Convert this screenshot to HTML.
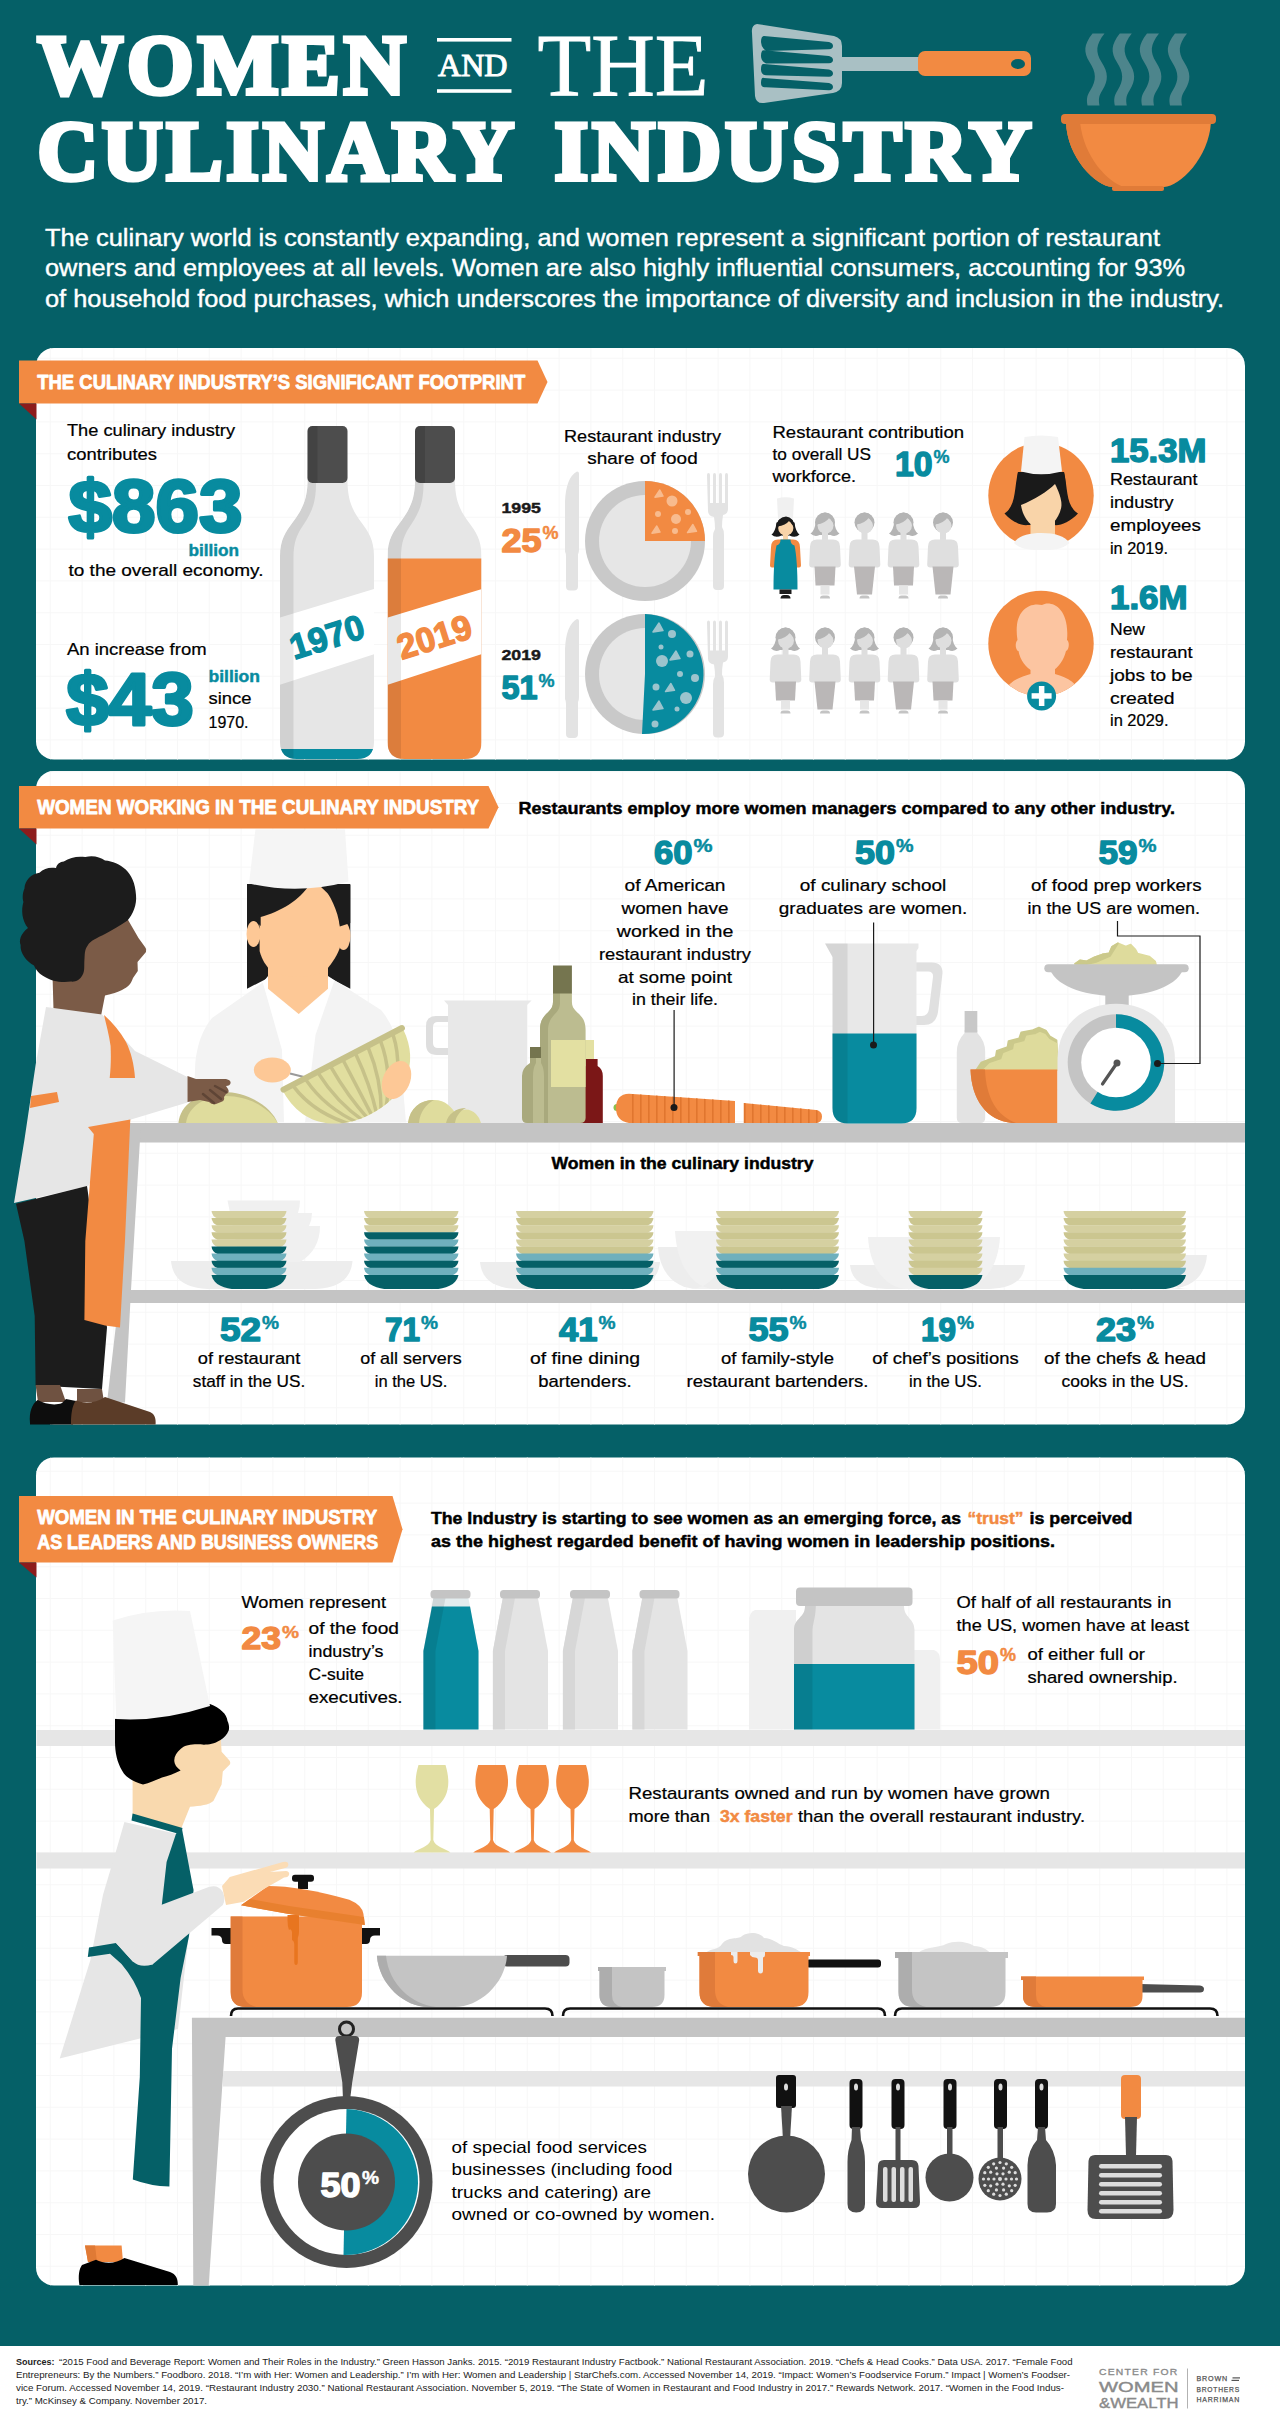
<!DOCTYPE html>
<html><head><meta charset="utf-8"><title>Women and the Culinary Industry</title>
<style>
html,body{margin:0;padding:0;background:#056067;}
body{width:1280px;height:2429px;overflow:hidden;font-family:"Liberation Sans",sans-serif;}
svg{display:block}
svg text{font-family:"Liberation Sans",sans-serif;}
svg text.fSerif{font-family:"Liberation Serif",serif;}
</style></head><body>
<svg width="1280" height="2429" viewBox="0 0 1280 2429">
<defs>
<pattern id="grid" width="31.8" height="31.8" patternUnits="userSpaceOnUse" x="18" y="8">
<path d="M0,0.5 H31.8 M0.5,0 V31.8" stroke="#f7f7f7" stroke-width="1" fill="none"/></pattern>
</defs>
<rect width="1280" height="2429" fill="#056067"/>
<g id="header">
<text x="37.5" y="93.5" font-size="85" textLength="372" lengthAdjust="spacingAndGlyphs" font-weight="bold" class="fSerif" fill="#fff" stroke="#fff" stroke-width="5" stroke-linejoin="miter" letter-spacing="4">WOMEN</text>
<text x="37.5" y="179.5" font-size="85" textLength="480.5" lengthAdjust="spacingAndGlyphs" font-weight="bold" class="fSerif" fill="#fff" stroke="#fff" stroke-width="5" stroke-linejoin="miter" letter-spacing="4">CULINARY</text>
<text x="554.5" y="179.5" font-size="85" textLength="481" lengthAdjust="spacingAndGlyphs" font-weight="bold" class="fSerif" fill="#fff" stroke="#fff" stroke-width="5" stroke-linejoin="miter" letter-spacing="4">INDUSTRY</text>
<text x="537.5" y="95" font-size="88.5" textLength="171" lengthAdjust="spacingAndGlyphs" class="fSerif" fill="#fff" stroke="#fff" stroke-width="0.9">THE</text>
<rect x="437" y="38" width="74.5" height="3.6" fill="#fff" />
<rect x="437" y="89.2" width="74.5" height="3.6" fill="#fff" />
<text x="438" y="76.3" font-size="30.5" textLength="69.5" lengthAdjust="spacingAndGlyphs" class="fSerif" fill="#fff" stroke="#fff" stroke-width="1">AND</text>
<text x="45" y="245.5" font-size="23" textLength="1115" lengthAdjust="spacingAndGlyphs" fill="#fff" stroke="#fff" stroke-width="0.4">The culinary world is constantly expanding, and women represent a significant portion of restaurant</text>
<text x="45" y="276" font-size="23" textLength="1140" lengthAdjust="spacingAndGlyphs" fill="#fff" stroke="#fff" stroke-width="0.4">owners and employees at all levels. Women are also highly influential consumers, accounting for 93%</text>
<text x="45" y="306.5" font-size="23" textLength="1179" lengthAdjust="spacingAndGlyphs" fill="#fff" stroke="#fff" stroke-width="0.4">of household food purchases, which underscores the importance of diversity and inclusion in the industry.</text>
<g><rect x="838" y="57" width="84" height="14" rx="3" fill="#a9c0c4" />
<path d="M757,24 Q751,25 752,33 L755,96 Q756,104 764,103 L833,93 Q842,91 842,83 L842,46 Q842,38 834,36 Z" fill="#a9c0c4" />
<path d="M764,36.0 L829,42 Q833,43 833,46 Q833,49 829,49.3 L766,51.0 Q761,47 761,42 Q761,36 764,36.0Z" fill="#056067" />
<path d="M764,50.3 L829,56 Q833,57 833,60 Q833,63 829,63.3 L766,63.4 Q761,61 761,56 Q761,50 764,50.3Z" fill="#056067" />
<path d="M764,64.1 L829,69.5 Q833,70.5 833,73.5 Q833,76.5 829,76.8 L766,75.3 Q761,74.5 761,69.5 Q761,63.5 764,64.1Z" fill="#056067" />
<path d="M764,77.9 L829,83 Q833,84 833,87 Q833,90 829,90.3 L766,87.2 Q761,88 761,83 Q761,77 764,77.9Z" fill="#056067" />
<rect x="918" y="51" width="113" height="25" rx="7" fill="#f28a42" />
<ellipse cx="1018" cy="64" rx="7" ry="5" fill="#056067"/></g>
<path d="M1092.5,33.500 C1083.5,45 1083.5,52 1089.5,62 C1096.5,73 1096.5,80 1090.5,90 C1086.5,96 1086.5,100 1087.5,105.500 H1099.5 C1098.5,100 1098.5,96 1102.5,90 C1108.5,80 1108.5,73 1101.5,62 C1095.5,52 1095.5,45 1104.5,33.500Z" fill="#4d858c"/>
<path d="M1119.8,33.500 C1110.8,45 1110.8,52 1116.8,62 C1123.8,73 1123.8,80 1117.8,90 C1113.8,96 1113.8,100 1114.8,105.500 H1126.8 C1125.8,100 1125.8,96 1129.8,90 C1135.8,80 1135.8,73 1128.8,62 C1122.8,52 1122.8,45 1131.8,33.500Z" fill="#4d858c"/>
<path d="M1147,33.500 C1138,45 1138,52 1144,62 C1151,73 1151,80 1145,90 C1141,96 1141,100 1142,105.500 H1154 C1153,100 1153,96 1157,90 C1163,80 1163,73 1156,62 C1150,52 1150,45 1159,33.500Z" fill="#4d858c"/>
<path d="M1175,33.500 C1166,45 1166,52 1172,62 C1179,73 1179,80 1173,90 C1169,96 1169,100 1170,105.500 H1182 C1181,100 1181,96 1185,90 C1191,80 1191,73 1184,62 C1178,52 1178,45 1187,33.500Z" fill="#4d858c"/>
<path d="M1066,122 L1211,122 C1209,158 1180,186 1164,187 L1112,187 C1096,186 1067,158 1066,122Z" fill="#f28a42" />
<path d="M1066,122 L1080,122 C1084,158 1108,182 1124,187 L1112,187 C1096,186 1067,158 1066,122Z" fill="#e07b38" />
<rect x="1061" y="114" width="155" height="10" rx="4" fill="#e07b38" />
<rect x="1112" y="186" width="52" height="5" rx="2" fill="#e07b38" />
</g>
<g id="sec1">
<rect x="36" y="348" width="1209" height="411.5" rx="18" fill="#fff" />
<rect x="36" y="348" width="1209" height="411.5" rx="18" fill="url(#grid)" />
<path d="M19,360.5 H537.5 L547.5,382.0 L537.5,403.5 H19Z" fill="#f28a42" />
<path d="M19,403.5 H36.5 V419.5Z" fill="#8c1c1c" />
<text x="37.2" y="389.0" font-size="19.5" textLength="488" lengthAdjust="spacingAndGlyphs" font-weight="bold" fill="#fff"  stroke="#fff" stroke-width="0.8" stroke-linejoin="round">THE CULINARY INDUSTRY’S SIGNIFICANT FOOTPRINT</text>
<text x="67" y="436" font-size="16.6" textLength="168" lengthAdjust="spacingAndGlyphs"  stroke="#000" stroke-width="0.22">The culinary industry</text>
<text x="67" y="459.5" font-size="16.6" textLength="90" lengthAdjust="spacingAndGlyphs"  stroke="#000" stroke-width="0.22">contributes</text>
<text x="68.4" y="531.5" font-size="74" textLength="174" lengthAdjust="spacingAndGlyphs" font-weight="bold" fill="#088b9f"  stroke="#088b9f" stroke-width="3.2" stroke-linejoin="round">$863</text>
<text x="188.5" y="556" font-size="16" textLength="50.5" lengthAdjust="spacingAndGlyphs" font-weight="bold" fill="#088b9f"  stroke="#088b9f" stroke-width="0.45" stroke-linejoin="round">billion</text>
<text x="68.5" y="576" font-size="16.6" textLength="195" lengthAdjust="spacingAndGlyphs"  stroke="#000" stroke-width="0.22">to the overall economy.</text>
<text x="66.9" y="654.5" font-size="16.6" textLength="139.7" lengthAdjust="spacingAndGlyphs"  stroke="#000" stroke-width="0.22">An increase from</text>
<text x="66.2" y="725" font-size="74" textLength="127.5" lengthAdjust="spacingAndGlyphs" font-weight="bold" fill="#088b9f"  stroke="#088b9f" stroke-width="3.2" stroke-linejoin="round">$43</text>
<text x="208.5" y="681.5" font-size="16" textLength="51.5" lengthAdjust="spacingAndGlyphs" font-weight="bold" fill="#088b9f"  stroke="#088b9f" stroke-width="0.45" stroke-linejoin="round">billion</text>
<text x="208.5" y="704" font-size="16.6" textLength="43" lengthAdjust="spacingAndGlyphs"  stroke="#000" stroke-width="0.22">since</text>
<text x="208.5" y="727.5" font-size="16.6" textLength="40" lengthAdjust="spacingAndGlyphs"  stroke="#000" stroke-width="0.22">1970.</text>
<g transform="translate(0,0)"><clipPath id="bc0"><path d="M307.500,470 H347.500 V483 C348,500 352,510 361.600,522.800 C368,531 374,540 374,556 V742 Q374,759 357,759 H297 Q280,759 280,742 V556 C280,540 286,531 292.400,522.800 C302,510 307,500 307.500,483Z"/></clipPath><g clip-path="url(#bc0)"><rect x="270" y="420" width="120" height="345" fill="#e6e6e6" />
<rect x="270" y="749" width="120" height="400" fill="#088b9f" />
<path d="M270,620.5 L384,586 V651 L270,688Z" fill="#fff" />
<path d="M307.500,470 h8.500 V484 C316,502 312,512 304,524 C297,534 293.500,542 293.500,558 V759 H280 V556 C280,540 286,531 292.400,522.800 C302,510 307,500 307.500,483Z" fill="#000" opacity="0.09"/>
</g><rect x="307.5" y="426" width="40" height="57" rx="5" fill="#4d4d4d" />
<path d="M307.5,431 q0,-5 5,-5 h5 v57 h-5 q-5,0 -5,-5Z" fill="#000" opacity="0.12"/>
<text x="327" y="649" font-size="35" font-weight="bold" fill="#088b9f" stroke="#088b9f" stroke-width="1.4" text-anchor="middle" textLength="76" lengthAdjust="spacingAndGlyphs" transform="rotate(-17.5 327 637)">1970</text></g>
<g transform="translate(107.5,0)"><clipPath id="bc107.5"><path d="M307.500,470 H347.500 V483 C348,500 352,510 361.600,522.800 C368,531 374,540 374,556 V742 Q374,759 357,759 H297 Q280,759 280,742 V556 C280,540 286,531 292.400,522.800 C302,510 307,500 307.500,483Z"/></clipPath><g clip-path="url(#bc107.5)"><rect x="270" y="420" width="120" height="345" fill="#e6e6e6" />
<rect x="270" y="558.5" width="120" height="400" fill="#f28a42" />
<path d="M270,620.5 L384,586 V651 L270,688Z" fill="#fff" />
<path d="M307.500,470 h8.500 V484 C316,502 312,512 304,524 C297,534 293.500,542 293.500,558 V759 H280 V556 C280,540 286,531 292.400,522.800 C302,510 307,500 307.500,483Z" fill="#000" opacity="0.09"/>
</g><rect x="307.5" y="426" width="40" height="57" rx="5" fill="#4d4d4d" />
<path d="M307.5,431 q0,-5 5,-5 h5 v57 h-5 q-5,0 -5,-5Z" fill="#000" opacity="0.12"/>
<text x="327" y="649" font-size="35" font-weight="bold" fill="#f28a42" stroke="#f28a42" stroke-width="1.4" text-anchor="middle" textLength="76" lengthAdjust="spacingAndGlyphs" transform="rotate(-17.5 327 637)">2019</text></g>
<text x="564.0" y="442" font-size="16.6" textLength="157" lengthAdjust="spacingAndGlyphs"  stroke="#000" stroke-width="0.22">Restaurant industry</text>
<text x="587.2" y="464" font-size="16.6" textLength="110.5" lengthAdjust="spacingAndGlyphs"  stroke="#000" stroke-width="0.22">share of food</text>
<text x="501.5" y="513" font-size="15.5" textLength="39.5" lengthAdjust="spacingAndGlyphs" font-weight="bold" fill="#1a1a1a"  stroke="#1a1a1a" stroke-width="0.45" stroke-linejoin="round">1995</text>
<text x="501.5" y="551.5" font-size="33.5" textLength="40" lengthAdjust="spacingAndGlyphs" font-weight="bold" fill="#f28a42"  stroke="#f28a42" stroke-width="1.51" stroke-linejoin="round">25</text>
<text x="542.5" y="539.4" font-size="17.5" textLength="16" lengthAdjust="spacingAndGlyphs" font-weight="bold" fill="#f28a42"  stroke="#f28a42" stroke-width="0.45" stroke-linejoin="round">%</text>
<text x="501.5" y="660" font-size="15.5" textLength="39.5" lengthAdjust="spacingAndGlyphs" font-weight="bold" fill="#1a1a1a"  stroke="#1a1a1a" stroke-width="0.45" stroke-linejoin="round">2019</text>
<text x="501.5" y="699" font-size="33.5" textLength="36" lengthAdjust="spacingAndGlyphs" font-weight="bold" fill="#088b9f"  stroke="#088b9f" stroke-width="1.51" stroke-linejoin="round">51</text>
<text x="538.5" y="686.9" font-size="17.5" textLength="16" lengthAdjust="spacingAndGlyphs" font-weight="bold" fill="#088b9f"  stroke="#088b9f" stroke-width="0.45" stroke-linejoin="round">%</text>
<path d="M577,471.5 q2,0 2,2 V549.5 q0,3 -1,5 V586.5 q0,4 -4,4 h-4 q-4,0 -4,-4 V556.5 q0,-3 -1,-5 V501.5 Q566,477.5 577,471.5Z" fill="#e3e3e3" />
<path d="M707,475 q0,-2 1.5,-2 q1.5,0 1.5,2 V503 h3 V475 q0,-2 1.5,-2 q1.5,0 1.5,2 V503 h3 V475 q0,-2 1.5,-2 q1.5,0 1.5,2 V503 h3 V475 q0,-2 1.5,-2 q1.5,0 1.5,2 V509 q0,5 -5,6 q-1,6 -1,12 q2,3 2,8 V586 q0,4 -4,4 h-3 q-4,0 -4,-4 V537 q0,-5 2,-8 q0,-6 -1,-12 q-6,-1 -6,-6Z" fill="#e3e3e3" />
<circle cx="645" cy="541" r="60" fill="#c9c9c9" />
<circle cx="645" cy="541" r="46" fill="#e6e6e6" />
<path d="M645,541 V481 A60,60 0 0 1 705,541Z" fill="#f28a42" />
<path d="M655,497.2 L659.8,490 L663,496.0Z" fill="#f8bb8e" stroke="#f8bb8e" stroke-width="1.5" stroke-linejoin="round"/>
<circle cx="672" cy="501" r="5.5" fill="#f8bb8e" />
<circle cx="658" cy="514" r="3" fill="#f8bb8e" />
<circle cx="688" cy="512" r="3" fill="#f8bb8e" />
<circle cx="676" cy="519" r="5" fill="#f8bb8e" />
<path d="M652,533.2 L656.8,526 L660,532.0Z" fill="#f8bb8e" stroke="#f8bb8e" stroke-width="1.5" stroke-linejoin="round"/>
<circle cx="675" cy="531" r="3" fill="#f8bb8e" />
<path d="M687.5,532.6 L692.9,524.5 L696.5,531.25Z" fill="#f8bb8e" stroke="#f8bb8e" stroke-width="1.5" stroke-linejoin="round"/>
<path d="M577,619 q2,0 2,2 V697 q0,3 -1,5 V734 q0,4 -4,4 h-4 q-4,0 -4,-4 V704 q0,-3 -1,-5 V649 Q566,625 577,619Z" fill="#e3e3e3" />
<path d="M707,622.5 q0,-2 1.5,-2 q1.5,0 1.5,2 V650.5 h3 V622.5 q0,-2 1.5,-2 q1.5,0 1.5,2 V650.5 h3 V622.5 q0,-2 1.5,-2 q1.5,0 1.5,2 V650.5 h3 V622.5 q0,-2 1.5,-2 q1.5,0 1.5,2 V656.5 q0,5 -5,6 q-1,6 -1,12 q2,3 2,8 V733.5 q0,4 -4,4 h-3 q-4,0 -4,-4 V684.5 q0,-5 2,-8 q0,-6 -1,-12 q-6,-1 -6,-6Z" fill="#e3e3e3" />
<circle cx="645" cy="674" r="60" fill="#c9c9c9" />
<circle cx="645" cy="674" r="46" fill="#e6e6e6" />
<path d="M645,614 A60,60 0 0 1 642,734 L645,674Z" fill="#088b9f" />
<path d="M653,632.0 L659.0,623 L663,630.5Z" fill="#9cc4cd" stroke="#9cc4cd" stroke-width="1.5" stroke-linejoin="round"/>
<circle cx="672" cy="634" r="4" fill="#9cc4cd" />
<circle cx="661" cy="647" r="2.5" fill="#9cc4cd" />
<path d="M670,660.0 L676.0,651 L680,658.5Z" fill="#9cc4cd" stroke="#9cc4cd" stroke-width="1.5" stroke-linejoin="round"/>
<circle cx="690" cy="654" r="3.5" fill="#9cc4cd" />
<circle cx="662" cy="661" r="6" fill="#9cc4cd" />
<circle cx="680" cy="674" r="3" fill="#9cc4cd" />
<circle cx="695" cy="678" r="4" fill="#9cc4cd" />
<circle cx="656" cy="687" r="3.5" fill="#9cc4cd" />
<path d="M665.5,691.6 L670.9,683.5 L674.5,690.25Z" fill="#9cc4cd" stroke="#9cc4cd" stroke-width="1.5" stroke-linejoin="round"/>
<circle cx="686" cy="698" r="6" fill="#9cc4cd" />
<path d="M653,710.0 L659.0,701 L663,708.5Z" fill="#9cc4cd" stroke="#9cc4cd" stroke-width="1.5" stroke-linejoin="round"/>
<circle cx="677" cy="709" r="2.5" fill="#9cc4cd" />
<circle cx="655" cy="724" r="3.5" fill="#9cc4cd" />
<text x="772.5" y="437.5" font-size="16.6" textLength="191.5" lengthAdjust="spacingAndGlyphs"  stroke="#000" stroke-width="0.22">Restaurant contribution</text>
<text x="772.5" y="460" font-size="16.6" textLength="98.5" lengthAdjust="spacingAndGlyphs"  stroke="#000" stroke-width="0.22">to overall US</text>
<text x="772.5" y="481.5" font-size="16.6" textLength="83.5" lengthAdjust="spacingAndGlyphs"  stroke="#000" stroke-width="0.22">workforce.</text>
<text x="895" y="476" font-size="35" textLength="37.5" lengthAdjust="spacingAndGlyphs" font-weight="bold" fill="#088b9f"  stroke="#088b9f" stroke-width="1.57" stroke-linejoin="round">10</text>
<text x="933.5" y="463.4" font-size="17.5" textLength="16" lengthAdjust="spacingAndGlyphs" font-weight="bold" fill="#088b9f"  stroke="#088b9f" stroke-width="0.45" stroke-linejoin="round">%</text>
<g transform="translate(785.5,512.5)"><path d="M-8.5,-14 q8.5,-2.5 17,0 l-1,20 h-15Z" fill="#f0f0f0" />
<path d="M-9,10 q-1,9 -5,12 q4,4 10,1 h8 q6,3 10,-1 q-4,-3 -5,-12Z" fill="#1a1a1a" />
<circle cx="0" cy="14" r="9.3" fill="#1a1a1a" />
<circle cx="0.3" cy="15.5" r="7.6" fill="#f9d4a9" />
<rect x="-2.5" y="21" width="5" height="7" fill="#f9d4a9" />
<path d="M-8,14 q8,-1 12,-6 q2,4 4.5,6 q0,-9 -8,-10 q-9,1 -8.500,10Z" fill="#1a1a1a" />
<path d="M-14.500,35 q0,-8 7,-8 h15 q7,0 7,8 l1,18 q0,2 -2,2 h-27 q-2,0 -2,-2Z" fill="#f28a42" />
<path d="M-5,27 h10 q0,5 4,6 q3,14 3,44 h-24 q0,-30 3,-44 q4,-1 4,-6Z" fill="#088b9f" />
<rect x="-6" y="77" width="12" height="4.5" fill="#1a1a1a" />
<path d="M-5,86 q0,-3.500 3.500,-3.500 h3 q3.500,0 3.500,3.500Z" fill="#1a1a1a" />
</g>
<g transform="translate(785.5,627.5)"><path d="M-9,8 q-1,10 -5.500,13 q4,4 9,1.500 h11 q5,2.500 9,-1.500 q-4.500,-3 -5.500,-13Z" fill="#b4b4b4" />
<circle cx="0" cy="10" r="10" fill="#b4b4b4" />
<circle cx="0.5" cy="13" r="8" fill="#dedede" />
<path d="M-8.500,12 q9,-1 13,-7 q2,4 4.500,6 q0,-10 -9,-11 q-9.500,1 -8.500,12Z" fill="#b4b4b4" />
<rect x="-3" y="19" width="6" height="9" fill="#dedede" />
<path d="M-15,34 q0,-7 7,-7 h16 q7,0 7,7 l0.800,18 q0,3 -3,3 h-25.600 q-3,0 -3,-3Z" fill="#dfdfdf" />
<path d="M-10.500,54 h21 l-1,19 h-19Z" fill="#bab7b7" />
<rect x="-4.5" y="73" width="9" height="9" fill="#e6e6e6" />
<path d="M-5,86 q0,-3 3,-3 h4 q3,0 3,3Z" fill="#c4c4c4" />
</g>
<g transform="translate(825,512.5)"><path d="M-9,8 q-1,10 -5.500,13 q4,4 9,1.500 h11 q5,2.500 9,-1.500 q-4.500,-3 -5.500,-13Z" fill="#b4b4b4" />
<circle cx="0" cy="10" r="10" fill="#b4b4b4" />
<circle cx="0.5" cy="13" r="8" fill="#dedede" />
<path d="M-8.500,12 q9,-1 13,-7 q2,4 4.500,6 q0,-10 -9,-11 q-9.500,1 -8.500,12Z" fill="#b4b4b4" />
<rect x="-3" y="19" width="6" height="9" fill="#dedede" />
<path d="M-15,34 q0,-7 7,-7 h16 q7,0 7,7 l0.800,18 q0,3 -3,3 h-25.600 q-3,0 -3,-3Z" fill="#dfdfdf" />
<path d="M-10.500,54 h21 l-1,19 h-19Z" fill="#bab7b7" />
<rect x="-4.5" y="73" width="9" height="9" fill="#e6e6e6" />
<path d="M-5,86 q0,-3 3,-3 h4 q3,0 3,3Z" fill="#c4c4c4" />
</g>
<g transform="translate(825,627.5)"><circle cx="0" cy="10" r="10" fill="#b4b4b4" />
<circle cx="0.5" cy="13" r="8" fill="#dedede" />
<path d="M-8.500,12 q9,-1 13,-7 q2,4 4.500,6 q0,-10 -9,-11 q-9.500,1 -8.500,12Z" fill="#b4b4b4" />
<rect x="-3" y="19" width="6" height="9" fill="#dedede" />
<path d="M-15,34 q0,-7 7,-7 h16 q7,0 7,7 l0.800,18 q0,3 -3,3 h-25.600 q-3,0 -3,-3Z" fill="#dfdfdf" />
<path d="M-10.500,54 h21 l-3,28 h-15Z" fill="#bab7b7" />
<path d="M-5,86 q0,-3 3,-3 h4 q3,0 3,3Z" fill="#c4c4c4" />
</g>
<g transform="translate(864.5,512.5)"><circle cx="0" cy="10" r="10" fill="#b4b4b4" />
<circle cx="0.5" cy="13" r="8" fill="#dedede" />
<path d="M-8.500,12 q9,-1 13,-7 q2,4 4.500,6 q0,-10 -9,-11 q-9.500,1 -8.500,12Z" fill="#b4b4b4" />
<rect x="-3" y="19" width="6" height="9" fill="#dedede" />
<path d="M-15,34 q0,-7 7,-7 h16 q7,0 7,7 l0.800,18 q0,3 -3,3 h-25.600 q-3,0 -3,-3Z" fill="#dfdfdf" />
<path d="M-10.500,54 h21 l-3,28 h-15Z" fill="#bab7b7" />
<path d="M-5,86 q0,-3 3,-3 h4 q3,0 3,3Z" fill="#c4c4c4" />
</g>
<g transform="translate(864.5,627.5)"><path d="M-9,8 q-1,10 -5.500,13 q4,4 9,1.500 h11 q5,2.500 9,-1.500 q-4.500,-3 -5.500,-13Z" fill="#b4b4b4" />
<circle cx="0" cy="10" r="10" fill="#b4b4b4" />
<circle cx="0.5" cy="13" r="8" fill="#dedede" />
<path d="M-8.500,12 q9,-1 13,-7 q2,4 4.500,6 q0,-10 -9,-11 q-9.500,1 -8.500,12Z" fill="#b4b4b4" />
<rect x="-3" y="19" width="6" height="9" fill="#dedede" />
<path d="M-15,34 q0,-7 7,-7 h16 q7,0 7,7 l0.800,18 q0,3 -3,3 h-25.600 q-3,0 -3,-3Z" fill="#dfdfdf" />
<path d="M-10.500,54 h21 l-1,19 h-19Z" fill="#bab7b7" />
<rect x="-4.5" y="73" width="9" height="9" fill="#e6e6e6" />
<path d="M-5,86 q0,-3 3,-3 h4 q3,0 3,3Z" fill="#c4c4c4" />
</g>
<g transform="translate(903.5,512.5)"><path d="M-9,8 q-1,10 -5.500,13 q4,4 9,1.500 h11 q5,2.500 9,-1.500 q-4.500,-3 -5.500,-13Z" fill="#b4b4b4" />
<circle cx="0" cy="10" r="10" fill="#b4b4b4" />
<circle cx="0.5" cy="13" r="8" fill="#dedede" />
<path d="M-8.500,12 q9,-1 13,-7 q2,4 4.500,6 q0,-10 -9,-11 q-9.500,1 -8.500,12Z" fill="#b4b4b4" />
<rect x="-3" y="19" width="6" height="9" fill="#dedede" />
<path d="M-15,34 q0,-7 7,-7 h16 q7,0 7,7 l0.800,18 q0,3 -3,3 h-25.600 q-3,0 -3,-3Z" fill="#dfdfdf" />
<path d="M-10.500,54 h21 l-1,19 h-19Z" fill="#bab7b7" />
<rect x="-4.5" y="73" width="9" height="9" fill="#e6e6e6" />
<path d="M-5,86 q0,-3 3,-3 h4 q3,0 3,3Z" fill="#c4c4c4" />
</g>
<g transform="translate(903.5,627.5)"><circle cx="0" cy="10" r="10" fill="#b4b4b4" />
<circle cx="0.5" cy="13" r="8" fill="#dedede" />
<path d="M-8.500,12 q9,-1 13,-7 q2,4 4.500,6 q0,-10 -9,-11 q-9.500,1 -8.500,12Z" fill="#b4b4b4" />
<rect x="-3" y="19" width="6" height="9" fill="#dedede" />
<path d="M-15,34 q0,-7 7,-7 h16 q7,0 7,7 l0.800,18 q0,3 -3,3 h-25.600 q-3,0 -3,-3Z" fill="#dfdfdf" />
<path d="M-10.500,54 h21 l-3,28 h-15Z" fill="#bab7b7" />
<path d="M-5,86 q0,-3 3,-3 h4 q3,0 3,3Z" fill="#c4c4c4" />
</g>
<g transform="translate(943,512.5)"><circle cx="0" cy="10" r="10" fill="#b4b4b4" />
<circle cx="0.5" cy="13" r="8" fill="#dedede" />
<path d="M-8.500,12 q9,-1 13,-7 q2,4 4.500,6 q0,-10 -9,-11 q-9.500,1 -8.500,12Z" fill="#b4b4b4" />
<rect x="-3" y="19" width="6" height="9" fill="#dedede" />
<path d="M-15,34 q0,-7 7,-7 h16 q7,0 7,7 l0.800,18 q0,3 -3,3 h-25.600 q-3,0 -3,-3Z" fill="#dfdfdf" />
<path d="M-10.500,54 h21 l-3,28 h-15Z" fill="#bab7b7" />
<path d="M-5,86 q0,-3 3,-3 h4 q3,0 3,3Z" fill="#c4c4c4" />
</g>
<g transform="translate(943,627.5)"><path d="M-9,8 q-1,10 -5.500,13 q4,4 9,1.500 h11 q5,2.500 9,-1.500 q-4.500,-3 -5.500,-13Z" fill="#b4b4b4" />
<circle cx="0" cy="10" r="10" fill="#b4b4b4" />
<circle cx="0.5" cy="13" r="8" fill="#dedede" />
<path d="M-8.500,12 q9,-1 13,-7 q2,4 4.500,6 q0,-10 -9,-11 q-9.500,1 -8.500,12Z" fill="#b4b4b4" />
<rect x="-3" y="19" width="6" height="9" fill="#dedede" />
<path d="M-15,34 q0,-7 7,-7 h16 q7,0 7,7 l0.800,18 q0,3 -3,3 h-25.600 q-3,0 -3,-3Z" fill="#dfdfdf" />
<path d="M-10.500,54 h21 l-1,19 h-19Z" fill="#bab7b7" />
<rect x="-4.5" y="73" width="9" height="9" fill="#e6e6e6" />
<path d="M-5,86 q0,-3 3,-3 h4 q3,0 3,3Z" fill="#c4c4c4" />
</g>
<circle cx="1041" cy="495.5" r="52.7" fill="#f28a42" />
<path d="M1018,472 H1064 C1068,490 1066,506 1078,513.5 C1070,522 1060,526 1054,525 H1028 C1022,526 1012,522 1004.500,513.500 C1016,506 1014,490 1018,472Z" fill="#1a1a1a" />
<rect x="1030.5" y="515" width="24.5" height="20" fill="#f9d4a9" />
<path d="M1020.500,500 C1020,484 1030,478 1041,478 C1052,478 1062,484 1062,500 C1062,516 1052,528 1041,528 C1030,528 1021,516 1020.500,500Z" fill="#f9d4a9" />
<path d="M1018,472 H1064 C1067,486 1066,500 1062,510 C1062,498 1058,490 1055,484 C1048,491 1034,500 1021,505 C1020,509 1019.500,508 1019,510 C1016,500 1016,486 1018,472Z" fill="#1a1a1a" />
<path d="M1014,543 C1018,536 1028,533 1041.500,533 C1055,533 1065,536 1069.500,543 C1062,550 1052,550 1041.500,550 C1031,550 1021,550 1014,543Z" fill="#f4f4f4" />
<path d="M1024.500,437 Q1041,434 1058,437 L1062,471.500 Q1041,477 1021,471.500Z" fill="#f4f4f4" />
<text x="1110" y="461.5" font-size="33.5" textLength="96.5" lengthAdjust="spacingAndGlyphs" font-weight="bold" fill="#088b9f"  stroke="#088b9f" stroke-width="1.51" stroke-linejoin="round">15.3M</text>
<text x="1110" y="485" font-size="16.6" textLength="87.5" lengthAdjust="spacingAndGlyphs"  stroke="#000" stroke-width="0.22">Restaurant</text>
<text x="1110" y="507.5" font-size="16.6" textLength="63.5" lengthAdjust="spacingAndGlyphs"  stroke="#000" stroke-width="0.22">industry</text>
<text x="1110" y="531" font-size="16.6" textLength="91" lengthAdjust="spacingAndGlyphs"  stroke="#000" stroke-width="0.22">employees</text>
<text x="1110" y="553.5" font-size="16.6" textLength="58" lengthAdjust="spacingAndGlyphs"  stroke="#000" stroke-width="0.22">in 2019.</text>
<circle cx="1041" cy="643.5" r="52.7" fill="#f28a42" />
<clipPath id="ci2"><circle cx="1041" cy="643.5" r="52.7"/></clipPath><g clip-path="url(#ci2)"><path d="M1002,700 C1004,684 1016,678 1030.500,674 V658 H1055 V674 C1069,678 1080,684 1082,700Z" fill="#fcc5a1" />
</g><path d="M1017.500,640 C1013,612 1028,602 1042,605 C1050,600 1070,606 1067,640 C1070,642 1069,650 1066,651 C1064,660 1058,668 1052,671 H1033 C1026,668 1020,660 1018.500,651 C1015,650 1015,642 1017.500,640Z" fill="#fcc5a1" />
<circle cx="1041.6" cy="696" r="14.5" fill="#088b9f" />
<rect x="1038.9" y="686" width="5.5" height="20" fill="#fff" />
<rect x="1031.6" y="693.2" width="20" height="5.5" fill="#fff" />
<text x="1110" y="609" font-size="33.5" textLength="77.5" lengthAdjust="spacingAndGlyphs" font-weight="bold" fill="#088b9f"  stroke="#088b9f" stroke-width="1.51" stroke-linejoin="round">1.6M</text>
<text x="1110" y="635" font-size="16.6" textLength="35" lengthAdjust="spacingAndGlyphs"  stroke="#000" stroke-width="0.22">New</text>
<text x="1110" y="658" font-size="16.6" textLength="82.5" lengthAdjust="spacingAndGlyphs"  stroke="#000" stroke-width="0.22">restaurant</text>
<text x="1110" y="681" font-size="16.6" textLength="82.5" lengthAdjust="spacingAndGlyphs"  stroke="#000" stroke-width="0.22">jobs to be</text>
<text x="1110" y="703.5" font-size="16.6" textLength="64.5" lengthAdjust="spacingAndGlyphs"  stroke="#000" stroke-width="0.22">created</text>
<text x="1110" y="726" font-size="16.6" textLength="58.5" lengthAdjust="spacingAndGlyphs"  stroke="#000" stroke-width="0.22">in 2029.</text>
</g>
<g id="sec2">
<rect x="36" y="771" width="1209" height="653.5" rx="18" fill="#fff" />
<rect x="36" y="771" width="1209" height="653.5" rx="18" fill="url(#grid)" />
<path d="M19,786 H488.5 L498.5,807.25 L488.5,828.5 H19Z" fill="#f28a42" />
<path d="M19,828.5 H36.5 V844.5Z" fill="#8c1c1c" />
<text x="37.2" y="814.0" font-size="19.5" textLength="442" lengthAdjust="spacingAndGlyphs" font-weight="bold" fill="#fff"  stroke="#fff" stroke-width="0.8" stroke-linejoin="round">WOMEN WORKING IN THE CULINARY INDUSTRY</text>
<text x="518.5" y="814" font-size="16.5" textLength="656.5" lengthAdjust="spacingAndGlyphs" font-weight="bold"  stroke="#000" stroke-width="0.45" stroke-linejoin="round">Restaurants employ more women managers compared to any other industry.</text>
<rect x="129" y="1123" width="1116" height="19.5" fill="#c4c4c4" />
<rect x="124" y="1290" width="1121" height="13" fill="#c4c4c4" />
<path d="M247,885 H350.3 V988.7 L330,978 H268 L247,988.7Z" fill="#1c1c1c" />
<path d="M262.8,982.4 L212,1018 Q198,1035 195.3,1062.6 L193,1122.5 H406 L400,1052 Q394,1025 381,1010 L334.5,980.3Z" fill="#f3f3f3" />
<path d="M262.8,982.4 L268,976 L298.7,1014 L328,976 L334.5,980.3 L315.5,1035 L305,1122.5 H284 L282,1050Z" fill="#fff" />
<path d="M268,960 V988.7 L298.7,1014 L328,988.7 V960Z" fill="#fdc896" />
<ellipse cx="253.5" cy="934" rx="7" ry="13" fill="#fdc896"/><ellipse cx="343.5" cy="936" rx="7" ry="14" fill="#fdc896"/><path d="M259.6,905 V951 C262,960 266,966 272,972 Q298,982 324,972 C330,966 336,958 339.8,948 V905 L320,886 H290Z" fill="#fdc896" />
<path d="M247,884 H310 C300,900 280,912 260.7,917 V926 L256,921 L247,921Z" fill="#1c1c1c" />
<path d="M322,884 H350.3 V923 L339.8,926.5 C338,910 330,896 322,884Z" fill="#1c1c1c" />
<path d="M255.4,829.5 H345 L348.5,881.5 Q299,895 249,883.5Z" fill="#f5f5f5" />
<path d="M290,1073.5 L306,1077.5" fill="none" stroke="#9a9a9a" stroke-width="2"/>
<ellipse cx="272.3" cy="1070" rx="18.500" ry="12.500" fill="#fdc896"/><g transform="rotate(-27.500 342.400 1059)"><clipPath id="bwl"><path d="M275,1061 H410 C409,1100 380,1121 342.500,1121 C305,1121 276,1100 275,1061Z"/></clipPath><path d="M275,1061 H410 C409,1100 380,1121 342.500,1121 C305,1121 276,1100 275,1061Z" fill="#e1de9f" />
<g clip-path="url(#bwl)" fill="none" stroke="#c6c189" stroke-width="3.5"><path d="M286.5,1061 Q292.1,1095 322.9,1124"/><path d="M300.5,1061 Q304.7,1095 327.8,1124"/><path d="M314.5,1061 Q317.3,1095 332.7,1124"/><path d="M328.5,1061 Q329.9,1095 337.6,1124"/><path d="M342.5,1061 Q342.5,1095 342.5,1124"/><path d="M356.5,1061 Q355.1,1095 347.4,1124"/><path d="M370.5,1061 Q367.7,1095 352.3,1124"/><path d="M384.5,1061 Q380.3,1095 357.2,1124"/><path d="M398.5,1061 Q392.9,1095 362.1,1124"/></g><rect x="273" y="1056" width="139.5" height="6" rx="3" fill="#c6c189" />
</g><ellipse cx="396.500" cy="1080" rx="13.500" ry="20" fill="#fdc896" transform="rotate(24 396.500 1080)"/><path d="M178.4,1123 C180,1105 198,1092 222.700,1092 C250,1092 272,1108 277.600,1123Z" fill="#c6c189" />
<path d="M186,1123 C188,1107 204,1096 226,1096 C251,1096 271,1110 277.600,1123Z" fill="#dfdc9d" />
<path d="M448,1016 h-12 q-10,0 -10,10 v18 q0,11 11,11 h11 v-7 h-10 q-5,0 -5,-5 v-16 q0,-5 5,-5 h10Z" fill="#dedede" />
<path d="M444,1000.500 H531.600 L527,1005 V1123 H448 V1005Z" fill="#e8e8e8" />
<path d="M408,1123 C410,1108 420,1100 434,1100 C446,1100 452,1108 456,1114 C462,1108 470,1108 476,1114 Q480,1118 481,1123Z" fill="#dfdc9d" />
<path d="M408,1123 C410,1108 420,1100 434,1100 C426,1104 420,1112 419,1123Z M446,1123 C448,1114 456,1108 466,1108 C458,1112 456,1118 455,1123Z" fill="#c6c189" />
<rect x="551" y="1040" width="43" height="47" fill="#e3e0a2" />
<path d="M585.600,1059 H597.600 V1066 Q602.800,1069 602.800,1076 V1123 H580 V1076 Q580,1069 585.600,1066Z" fill="#7b1717" />
<path d="M553,993 H571.900 V1002 C572,1014 585.600,1012 585.600,1030 V1118 Q585.600,1123 580,1123 H545 Q540,1123 540,1118 V1030 C540,1012 553,1014 553,1002Z" fill="#bcbc90" />
<path d="M553,993 h7 V1003 C560,1015 548,1014 548,1031 V1123 H545 Q540,1123 540,1118 V1030 C540,1012 553,1014 553,1002Z" fill="#a9a97d" />
<rect x="551" y="1040" width="34.6" height="47" fill="#e3e0a2" />
<rect x="553" y="965.5" width="18.9" height="28" fill="#75754f" />
<path d="M530,1058 H541 V1063 Q544,1068 544,1076 V1123 H527 Q522,1123 522,1118 V1076 Q522,1068 530,1063Z" fill="#a9a97d" />
<path d="M536,1058 H541 V1063 Q544,1068 544,1076 V1123 H533 V1076 Q533,1068 536,1063Z" fill="#bcbc90" />
<rect x="530" y="1047" width="11" height="11" fill="#75754f" />
<circle cx="617" cy="1107.5" r="3.5" fill="#8dbf4a" />
<clipPath id="car"><path d="M629,1093.700 L735,1101 V1123 H629 Q616,1121 616,1108 Q616,1094 629,1093.700Z M743.700,1103 L816,1110 Q822,1111 822,1116.500 Q822,1123 816,1123 H743.700Z"/></clipPath><g clip-path="url(#car)"><rect x="610" y="1090" width="220" height="36" fill="#f28a42"/><rect x="632" y="1090" width="1.6" height="36" fill="#e0762f"/><rect x="640" y="1090" width="1.6" height="36" fill="#e0762f"/><rect x="648" y="1090" width="1.6" height="36" fill="#e0762f"/><rect x="656" y="1090" width="1.6" height="36" fill="#e0762f"/><rect x="664" y="1090" width="1.6" height="36" fill="#e0762f"/><rect x="672" y="1090" width="1.6" height="36" fill="#e0762f"/><rect x="680" y="1090" width="1.6" height="36" fill="#e0762f"/><rect x="688" y="1090" width="1.6" height="36" fill="#e0762f"/><rect x="696" y="1090" width="1.6" height="36" fill="#e0762f"/><rect x="704" y="1090" width="1.6" height="36" fill="#e0762f"/><rect x="712" y="1090" width="1.6" height="36" fill="#e0762f"/><rect x="720" y="1090" width="1.6" height="36" fill="#e0762f"/><rect x="728" y="1090" width="1.6" height="36" fill="#e0762f"/><rect x="736" y="1090" width="1.6" height="36" fill="#e0762f"/><rect x="744" y="1090" width="1.6" height="36" fill="#e0762f"/><rect x="752" y="1090" width="1.6" height="36" fill="#e0762f"/><rect x="760" y="1090" width="1.6" height="36" fill="#e0762f"/><rect x="768" y="1090" width="1.6" height="36" fill="#e0762f"/><rect x="776" y="1090" width="1.6" height="36" fill="#e0762f"/><rect x="784" y="1090" width="1.6" height="36" fill="#e0762f"/><rect x="792" y="1090" width="1.6" height="36" fill="#e0762f"/><rect x="800" y="1090" width="1.6" height="36" fill="#e0762f"/><rect x="808" y="1090" width="1.6" height="36" fill="#e0762f"/><rect x="816" y="1090" width="1.6" height="36" fill="#e0762f"/></g><path d="M130,1123 H141 L131,1290 L125,1402.5 H107 L120,1290Z" fill="#c4c4c4" />
<path d="M52.5,975 L53.5,1010 L101,1016 L105,995.5 C112,994 118,992 122,990 C128,987 131,984 133,978 L137.8,971 L137.5,962 L146,952 Q147,949 145,947 L138.5,938 L127.5,919 L80,930Z" fill="#7b5b47" />
<path d="M85.3,857 C93,855 100,857 105,860.6 C120,862 135,872 136,895 C137,905 133,914 127.5,920.6 C120,926 112,930 105,934 C97,938 90,941 88,945 C84,950 85,955 84.4,960 C84,966 85,971 82.5,975 C80,980 76,982 71,981.6 C61,983 51,981 45,977 C39,974 36,970 34,965.6 C26,961 20,953 20.6,945 C19,941 20,934 28,928 C22,921 21,910 23.4,902 C22,897 23,892 24.4,888.8 C25,880 31,874 39.4,872.8 C44,868 50,867 56,868 C57,864 60,862 63.8,861.6 C70,857 78,856 85.3,857Z" fill="#1c1c1c" />
<path d="M46,1007 L102,1014.4 L135,1051 L187.5,1077 V1102.5 L131,1119.4 L129,1123 L88,1186 L14,1203 L24.4,1140 L35.6,1065Z" fill="#e6e6e6" />
<path d="M104,1015 C112,1022 120,1031 126,1042 C131,1052 134,1064 135,1078 H109.7 C111,1066 111,1056 110.6,1046 C109,1034 106,1024 104,1015Z" fill="#f28a42" />
<path d="M31,1096 L57,1092 L59,1102 L30,1108Z" fill="#f28a42" />
<path d="M16,1203.8 L87,1186 L107,1327.5 L102,1389 L35.6,1385.6 L34.7,1316 L24.4,1241Z" fill="#1c1c1c" />
<path d="M88,1127 L130.3,1119.5 L125,1240 L120,1327.5 L105,1325.6 L84.4,1320 L85.3,1241 L93.8,1134Z" fill="#f28a42" />
<path d="M35.6,1385 H60 L66,1402 H38Z" fill="#6f5241" />
<path d="M77,1389 H102 L104,1402 H77Z" fill="#6f5241" />
<path d="M30,1423 C29,1412 32,1404 37.5,1400 C45,1404 55,1406 62,1403 L66,1399 L76,1401 L73,1424.500 H30Z" fill="#0d0d0d" />
<path d="M71,1423 C71,1412 73,1404 76,1400.6 C85,1404 96,1403 105,1397 L150,1412 C155,1414 156,1419 155.6,1424.500 H71Z" fill="#5b3c28" />
<path d="M187.5,1076 L196,1079 L226,1079 Q231,1080 230.6,1083 Q230,1086 226,1086 L228,1089 Q230,1093 226,1094 L224,1097 Q225,1101 221,1102 L216,1104 Q212,1105 209,1102 L200,1100 L187.5,1102Z" fill="#7b5b47" />
<path d="M203,1094 L214,1103 M210,1090 L221,1099 M215,1086 L226,1092" fill="none" stroke="#5f4536" stroke-width="2.5" stroke-linecap="round"/>
<path d="M916,962.500 H932 Q942.500,962.500 942.500,973 L938,1012 Q936,1025 924,1025 H916 V1016 H922 Q928,1016 929,1009 L933,977 Q933.500,971.500 928,971.500 H916Z" fill="#e0e0e0" />
<clipPath id="jug"><path d="M825,943.500 H918.500 V948 L916.500,951 V1108 Q916.500,1123.500 901,1123.500 H848 Q832.500,1123.500 832.500,1108 V957Z"/></clipPath><g clip-path="url(#jug)"><rect x="820" y="940" width="105" height="190" fill="#e8e8e8"/><rect x="820" y="1033.500" width="105" height="95" fill="#088b9f"/><rect x="820" y="940" width="27.500" height="190" fill="#000" opacity="0.08"/></g><path d="M964.600,1030 H977.300 V1033 Q985.200,1041 985.200,1052 V1118 Q985.200,1123 980,1123 H962 Q956.800,1123 956.800,1118 V1052 Q956.800,1041 964.600,1033Z" fill="#e3e3e3" />
<rect x="964.6" y="1011" width="12.7" height="21.5" fill="#c8c8c8" />
<path d="M976.400,1070 L981.300,1062.800 L995.900,1057 L996.900,1051 L1007.600,1047.200 L1008.600,1041.300 L1019.300,1038.400 L1021.300,1032.500 L1032,1030.600 L1038.900,1027.700 L1045.700,1030.600 L1049.600,1036.400 L1056.400,1040.400 L1057.500,1070Z" fill="#cbc98b" stroke="#cbc98b" stroke-width="2" stroke-linejoin="round"/>
<path d="M984,1070 L990,1064 L1002,1060 L1004,1054 L1014,1050 L1015,1044.500 L1025,1042 L1027,1036.500 L1036,1035 L1040,1033 L1045,1035 L1049,1040 L1056.400,1044 L1057.500,1070Z" fill="#dedb9c" stroke="#dedb9c" stroke-width="2" stroke-linejoin="round"/>
<path d="M970.500,1069.600 H1057.500 V1123 H1012 C987,1121 971.500,1100 970.500,1069.600Z" fill="#f28a42" />
<path d="M970.500,1069.600 H985 C986,1098 997,1116 1016,1123 H1012 C987,1121 971.500,1100 970.500,1069.600Z" fill="#e07b38" />
<path d="M1075,964 L1079.900,960.300 L1086.700,961.300 L1094.500,957.300 L1102.300,954.400 L1109.200,953.400 L1112.100,946.600 L1118,943.300 L1125.800,946.600 L1130.700,944.600 L1135.500,949.500 L1137.500,953.400 L1149.200,956.400 L1155.100,961.300 L1156,964.500Z" fill="#dedb9c" stroke="#dedb9c" stroke-width="1.6" stroke-linejoin="round"/>
<path d="M1075,964 L1079.900,960.300 L1086.700,961.300 L1094.500,957.300 L1102.300,954.400 L1109.200,953.400 L1112.100,946.600 L1118,943.300 L1110,956 L1096,962 L1086,964.500Z" fill="#cbc98b" stroke="#cbc98b" stroke-width="1.6" stroke-linejoin="round"/>
<rect x="1044.3" y="964.2" width="144.4" height="8" rx="4" fill="#c4c4c4" />
<path d="M1049.600,969 C1058,989 1090,996 1116.500,996 C1143,996 1175,989 1183.400,969Z" fill="#c4c4c4" />
<rect x="1105.3" y="994" width="23.4" height="13" fill="#c4c4c4" />
<path d="M1057.500,1123 V1060 C1057.500,1026 1082,1003.800 1116,1003.800 C1150,1003.800 1175,1026 1175,1060 V1123Z" fill="#e8e8e8" />
<circle cx="1116" cy="1062.5" r="48.3" fill="#c4c4c4" />
<path d="M1116,1062.500 V1014.200 A48.300,48.300 0 1 1 1090.4,1103.5Z" fill="#088b9f" />
<circle cx="1116" cy="1062.5" r="34.8" fill="#fff" />
<path d="M1117,1063 L1102.500,1084" fill="none" stroke="#555" stroke-width="3.200" stroke-linecap="round"/>
<circle cx="1117" cy="1063" r="3.5" fill="#555" />
<text x="654" y="864" font-size="33.5" textLength="38.5" lengthAdjust="spacingAndGlyphs" font-weight="bold" fill="#088b9f"  stroke="#088b9f" stroke-width="1.51" stroke-linejoin="round">60</text>
<text x="693.5" y="851.9" font-size="17.5" textLength="19" lengthAdjust="spacingAndGlyphs" font-weight="bold" fill="#088b9f"  stroke="#088b9f" stroke-width="0.45" stroke-linejoin="round">%</text>
<text x="624.5" y="891" font-size="16.6" textLength="101" lengthAdjust="spacingAndGlyphs"  stroke="#000" stroke-width="0.22">of American</text>
<text x="621.5" y="914" font-size="16.6" textLength="107" lengthAdjust="spacingAndGlyphs"  stroke="#000" stroke-width="0.22">women have</text>
<text x="616.8" y="936.5" font-size="16.6" textLength="116.5" lengthAdjust="spacingAndGlyphs"  stroke="#000" stroke-width="0.22">worked in the</text>
<text x="599.0" y="960" font-size="16.6" textLength="152" lengthAdjust="spacingAndGlyphs"  stroke="#000" stroke-width="0.22">restaurant industry</text>
<text x="618.0" y="982.5" font-size="16.6" textLength="114" lengthAdjust="spacingAndGlyphs"  stroke="#000" stroke-width="0.22">at some point</text>
<text x="632.0" y="1005" font-size="16.6" textLength="86" lengthAdjust="spacingAndGlyphs"  stroke="#000" stroke-width="0.22">in their life.</text>
<rect x="673.5" y="1010" width="1.2" height="97" fill="#1a1a1a" />
<circle cx="674" cy="1107.5" r="3.5" fill="#1a1a1a" />
<text x="855" y="864" font-size="33.5" textLength="40" lengthAdjust="spacingAndGlyphs" font-weight="bold" fill="#088b9f"  stroke="#088b9f" stroke-width="1.51" stroke-linejoin="round">50</text>
<text x="896" y="851.9" font-size="17.5" textLength="17.5" lengthAdjust="spacingAndGlyphs" font-weight="bold" fill="#088b9f"  stroke="#088b9f" stroke-width="0.45" stroke-linejoin="round">%</text>
<text x="799.8" y="891" font-size="16.6" textLength="146.5" lengthAdjust="spacingAndGlyphs"  stroke="#000" stroke-width="0.22">of culinary school</text>
<text x="778.8" y="914" font-size="16.6" textLength="188.5" lengthAdjust="spacingAndGlyphs"  stroke="#000" stroke-width="0.22">graduates are women.</text>
<rect x="873" y="922.5" width="1.2" height="122" fill="#1a1a1a" />
<circle cx="873.5" cy="1045" r="3.5" fill="#1a1a1a" />
<text x="1098.5" y="864" font-size="33.5" textLength="39" lengthAdjust="spacingAndGlyphs" font-weight="bold" fill="#088b9f"  stroke="#088b9f" stroke-width="1.51" stroke-linejoin="round">59</text>
<text x="1138.5" y="851.9" font-size="17.5" textLength="18" lengthAdjust="spacingAndGlyphs" font-weight="bold" fill="#088b9f"  stroke="#088b9f" stroke-width="0.45" stroke-linejoin="round">%</text>
<text x="1031" y="891" font-size="16.6" textLength="170.5" lengthAdjust="spacingAndGlyphs"  stroke="#000" stroke-width="0.22">of food prep workers</text>
<text x="1027.5" y="914" font-size="16.6" textLength="172.5" lengthAdjust="spacingAndGlyphs"  stroke="#000" stroke-width="0.22">in the US are women.</text>
<path d="M1117.500,921 V936 H1200 V1063.500 H1158" fill="none" stroke="#1a1a1a" stroke-width="1.2"/>
<circle cx="1157.5" cy="1063.5" r="3.5" fill="#1a1a1a" />
<text x="551.5" y="1168.5" font-size="16.5" textLength="262" lengthAdjust="spacingAndGlyphs" font-weight="bold"  stroke="#000" stroke-width="0.45" stroke-linejoin="round">Women in the culinary industry</text>
<path d="M171,1261 H352.5 C350.5,1283.0 332.5,1289 312.5,1289 H211 C191,1289 173,1283.0 171,1261Z" fill="#ededed" />
<path d="M227.500,1200.500 H300 Q300,1207 298,1213 H312 Q312,1220 309,1226 H320 Q320,1250 300,1262 H240Z" fill="#f0f0f0" />
<path d="M480,1262 H660 C658,1283.5 640,1289 620,1289 H520 C500,1289 482,1283.5 480,1262Z" fill="#ededed" />
<path d="M658,1247 H800 C798,1276.0 780,1289 760,1289 H698 C678,1289 660,1276.0 658,1247Z" fill="#ededed" />
<path d="M675,1231 H730 C728,1268.0 710,1289 690,1289 H715 C695,1289 677,1268.0 675,1231Z" fill="#f1f1f1" />
<path d="M850,1265 H1025 C1023,1285.0 1005,1289 985,1289 H890 C870,1289 852,1285.0 850,1265Z" fill="#ededed" />
<path d="M868,1237 H1000 C998,1271.0 980,1289 960,1289 H908 C888,1289 870,1271.0 868,1237Z" fill="#f1f1f1" />
<path d="M1150,1255 H1207 C1205,1280.0 1187,1289 1167,1289 H1190 C1170,1289 1152,1280.0 1150,1255Z" fill="#ededed" />
<path d="M211.5,1211.0 H286.5 Q286.0,1216.325 280.5,1218.3999999999999 H217.5 Q212.0,1216.325 211.5,1211.0Z" fill="#d5d0a1" />
<path d="M211.5,1218.1 H286.5 Q286.0,1223.425 280.5,1225.4999999999998 H217.5 Q212.0,1223.425 211.5,1218.1Z" fill="#cbc690" />
<path d="M211.5,1225.2 H286.5 Q286.0,1230.525 280.5,1232.6 H217.5 Q212.0,1230.525 211.5,1225.2Z" fill="#d5d0a1" />
<path d="M211.5,1232.3 H286.5 Q286.0,1237.625 280.5,1239.6999999999998 H217.5 Q212.0,1237.625 211.5,1232.3Z" fill="#cbc690" />
<path d="M211.5,1239.4 H286.5 Q286.0,1244.7250000000001 280.5,1246.8 H217.5 Q212.0,1244.7250000000001 211.5,1239.4Z" fill="#d5d0a1" />
<path d="M211.5,1246.5 H286.5 Q286.0,1251.825 280.5,1253.8999999999999 H217.5 Q212.0,1251.825 211.5,1246.5Z" fill="#056067" />
<path d="M211.5,1253.6 H286.5 Q286.0,1258.925 280.5,1260.9999999999998 H217.5 Q212.0,1258.925 211.5,1253.6Z" fill="#6fb0bd" />
<path d="M211.5,1260.7 H286.5 Q286.0,1266.025 280.5,1268.1 H217.5 Q212.0,1266.025 211.5,1260.7Z" fill="#056067" />
<path d="M211.5,1267.8 H286.5 Q286.0,1273.125 280.5,1275.1999999999998 H217.5 Q212.0,1273.125 211.5,1267.8Z" fill="#6fb0bd" />
<path d="M211.5,1274.9 H286.5 C284.5,1285 272.5,1289 262.5,1289 H235.5 C225.5,1289 213.5,1285 211.5,1274.9Z" fill="#056067" />
<path d="M364,1211.0 H458.5 Q458.0,1216.325 452.5,1218.3999999999999 H370 Q364.5,1216.325 364,1211.0Z" fill="#d5d0a1" />
<path d="M364,1218.1 H458.5 Q458.0,1223.425 452.5,1225.4999999999998 H370 Q364.5,1223.425 364,1218.1Z" fill="#cbc690" />
<path d="M364,1225.2 H458.5 Q458.0,1230.525 452.5,1232.6 H370 Q364.5,1230.525 364,1225.2Z" fill="#d5d0a1" />
<path d="M364,1232.3 H458.5 Q458.0,1237.625 452.5,1239.6999999999998 H370 Q364.5,1237.625 364,1232.3Z" fill="#056067" />
<path d="M364,1239.4 H458.5 Q458.0,1244.7250000000001 452.5,1246.8 H370 Q364.5,1244.7250000000001 364,1239.4Z" fill="#6fb0bd" />
<path d="M364,1246.5 H458.5 Q458.0,1251.825 452.5,1253.8999999999999 H370 Q364.5,1251.825 364,1246.5Z" fill="#056067" />
<path d="M364,1253.6 H458.5 Q458.0,1258.925 452.5,1260.9999999999998 H370 Q364.5,1258.925 364,1253.6Z" fill="#6fb0bd" />
<path d="M364,1260.7 H458.5 Q458.0,1266.025 452.5,1268.1 H370 Q364.5,1266.025 364,1260.7Z" fill="#056067" />
<path d="M364,1267.8 H458.5 Q458.0,1273.125 452.5,1275.1999999999998 H370 Q364.5,1273.125 364,1267.8Z" fill="#6fb0bd" />
<path d="M364,1274.9 H458.5 C456.5,1285 444.5,1289 434.5,1289 H388 C378,1289 366,1285 364,1274.9Z" fill="#056067" />
<path d="M516,1211.0 H653.5 Q653.0,1216.325 647.5,1218.3999999999999 H522 Q516.5,1216.325 516,1211.0Z" fill="#d5d0a1" />
<path d="M516,1218.1 H653.5 Q653.0,1223.425 647.5,1225.4999999999998 H522 Q516.5,1223.425 516,1218.1Z" fill="#cbc690" />
<path d="M516,1225.2 H653.5 Q653.0,1230.525 647.5,1232.6 H522 Q516.5,1230.525 516,1225.2Z" fill="#d5d0a1" />
<path d="M516,1232.3 H653.5 Q653.0,1237.625 647.5,1239.6999999999998 H522 Q516.5,1237.625 516,1232.3Z" fill="#cbc690" />
<path d="M516,1239.4 H653.5 Q653.0,1244.7250000000001 647.5,1246.8 H522 Q516.5,1244.7250000000001 516,1239.4Z" fill="#d5d0a1" />
<path d="M516,1246.5 H653.5 Q653.0,1251.825 647.5,1253.8999999999999 H522 Q516.5,1251.825 516,1246.5Z" fill="#cbc690" />
<path d="M516,1253.6 H653.5 Q653.0,1258.925 647.5,1260.9999999999998 H522 Q516.5,1258.925 516,1253.6Z" fill="#6fb0bd" />
<path d="M516,1260.7 H653.5 Q653.0,1266.025 647.5,1268.1 H522 Q516.5,1266.025 516,1260.7Z" fill="#056067" />
<path d="M516,1267.8 H653.5 Q653.0,1273.125 647.5,1275.1999999999998 H522 Q516.5,1273.125 516,1267.8Z" fill="#6fb0bd" />
<path d="M516,1274.9 H653.5 C651.5,1285 639.5,1289 629.5,1289 H540 C530,1289 518,1285 516,1274.9Z" fill="#056067" />
<path d="M716,1211.0 H839 Q838.5,1216.325 833,1218.3999999999999 H722 Q716.5,1216.325 716,1211.0Z" fill="#d5d0a1" />
<path d="M716,1218.1 H839 Q838.5,1223.425 833,1225.4999999999998 H722 Q716.5,1223.425 716,1218.1Z" fill="#cbc690" />
<path d="M716,1225.2 H839 Q838.5,1230.525 833,1232.6 H722 Q716.5,1230.525 716,1225.2Z" fill="#d5d0a1" />
<path d="M716,1232.3 H839 Q838.5,1237.625 833,1239.6999999999998 H722 Q716.5,1237.625 716,1232.3Z" fill="#cbc690" />
<path d="M716,1239.4 H839 Q838.5,1244.7250000000001 833,1246.8 H722 Q716.5,1244.7250000000001 716,1239.4Z" fill="#d5d0a1" />
<path d="M716,1246.5 H839 Q838.5,1251.825 833,1253.8999999999999 H722 Q716.5,1251.825 716,1246.5Z" fill="#cbc690" />
<path d="M716,1253.6 H839 Q838.5,1258.925 833,1260.9999999999998 H722 Q716.5,1258.925 716,1253.6Z" fill="#6fb0bd" />
<path d="M716,1260.7 H839 Q838.5,1266.025 833,1268.1 H722 Q716.5,1266.025 716,1260.7Z" fill="#056067" />
<path d="M716,1267.8 H839 Q838.5,1273.125 833,1275.1999999999998 H722 Q716.5,1273.125 716,1267.8Z" fill="#6fb0bd" />
<path d="M716,1274.9 H839 C837,1285 825,1289 815,1289 H740 C730,1289 718,1285 716,1274.9Z" fill="#056067" />
<path d="M908.5,1211.0 H982.5 Q982.0,1216.325 976.5,1218.3999999999999 H914.5 Q909.0,1216.325 908.5,1211.0Z" fill="#d5d0a1" />
<path d="M908.5,1218.1 H982.5 Q982.0,1223.425 976.5,1225.4999999999998 H914.5 Q909.0,1223.425 908.5,1218.1Z" fill="#cbc690" />
<path d="M908.5,1225.2 H982.5 Q982.0,1230.525 976.5,1232.6 H914.5 Q909.0,1230.525 908.5,1225.2Z" fill="#d5d0a1" />
<path d="M908.5,1232.3 H982.5 Q982.0,1237.625 976.5,1239.6999999999998 H914.5 Q909.0,1237.625 908.5,1232.3Z" fill="#cbc690" />
<path d="M908.5,1239.4 H982.5 Q982.0,1244.7250000000001 976.5,1246.8 H914.5 Q909.0,1244.7250000000001 908.5,1239.4Z" fill="#d5d0a1" />
<path d="M908.5,1246.5 H982.5 Q982.0,1251.825 976.5,1253.8999999999999 H914.5 Q909.0,1251.825 908.5,1246.5Z" fill="#cbc690" />
<path d="M908.5,1253.6 H982.5 Q982.0,1258.925 976.5,1260.9999999999998 H914.5 Q909.0,1258.925 908.5,1253.6Z" fill="#d5d0a1" />
<path d="M908.5,1260.7 H982.5 Q982.0,1266.025 976.5,1268.1 H914.5 Q909.0,1266.025 908.5,1260.7Z" fill="#cbc690" />
<path d="M908.5,1267.8 H982.5 Q982.0,1273.125 976.5,1275.1999999999998 H914.5 Q909.0,1273.125 908.5,1267.8Z" fill="#d5d0a1" />
<path d="M908.5,1274.9 H982.5 C980.5,1285 968.5,1289 958.5,1289 H932.5 C922.5,1289 910.5,1285 908.5,1274.9Z" fill="#056067" />
<path d="M1063.5,1211.0 H1186.0 Q1185.5,1216.325 1180.0,1218.3999999999999 H1069.5 Q1064.0,1216.325 1063.5,1211.0Z" fill="#d5d0a1" />
<path d="M1063.5,1218.1 H1186.0 Q1185.5,1223.425 1180.0,1225.4999999999998 H1069.5 Q1064.0,1223.425 1063.5,1218.1Z" fill="#cbc690" />
<path d="M1063.5,1225.2 H1186.0 Q1185.5,1230.525 1180.0,1232.6 H1069.5 Q1064.0,1230.525 1063.5,1225.2Z" fill="#d5d0a1" />
<path d="M1063.5,1232.3 H1186.0 Q1185.5,1237.625 1180.0,1239.6999999999998 H1069.5 Q1064.0,1237.625 1063.5,1232.3Z" fill="#cbc690" />
<path d="M1063.5,1239.4 H1186.0 Q1185.5,1244.7250000000001 1180.0,1246.8 H1069.5 Q1064.0,1244.7250000000001 1063.5,1239.4Z" fill="#d5d0a1" />
<path d="M1063.5,1246.5 H1186.0 Q1185.5,1251.825 1180.0,1253.8999999999999 H1069.5 Q1064.0,1251.825 1063.5,1246.5Z" fill="#cbc690" />
<path d="M1063.5,1253.6 H1186.0 Q1185.5,1258.925 1180.0,1260.9999999999998 H1069.5 Q1064.0,1258.925 1063.5,1253.6Z" fill="#d5d0a1" />
<path d="M1063.5,1260.7 H1186.0 Q1185.5,1266.025 1180.0,1268.1 H1069.5 Q1064.0,1266.025 1063.5,1260.7Z" fill="#cbc690" />
<path d="M1063.5,1267.8 H1186.0 Q1185.5,1273.125 1180.0,1275.1999999999998 H1069.5 Q1064.0,1273.125 1063.5,1267.8Z" fill="#6fb0bd" />
<path d="M1063.5,1274.9 H1186.0 C1184.0,1285 1172.0,1289 1162.0,1289 H1087.5 C1077.5,1289 1065.5,1285 1063.5,1274.9Z" fill="#056067" />
<text x="220" y="1341" font-size="33.5" textLength="41" lengthAdjust="spacingAndGlyphs" font-weight="bold" fill="#088b9f"  stroke="#088b9f" stroke-width="1.51" stroke-linejoin="round">52</text>
<text x="262" y="1328.9" font-size="17.5" textLength="17" lengthAdjust="spacingAndGlyphs" font-weight="bold" fill="#088b9f"  stroke="#088b9f" stroke-width="0.45" stroke-linejoin="round">%</text>
<text x="197.8" y="1363.5" font-size="16.6" textLength="102.5" lengthAdjust="spacingAndGlyphs"  stroke="#000" stroke-width="0.22">of restaurant</text>
<text x="192.8" y="1386.5" font-size="16.6" textLength="112.5" lengthAdjust="spacingAndGlyphs"  stroke="#000" stroke-width="0.22">staff in the US.</text>
<text x="385" y="1341" font-size="33.5" textLength="35" lengthAdjust="spacingAndGlyphs" font-weight="bold" fill="#088b9f"  stroke="#088b9f" stroke-width="1.51" stroke-linejoin="round">71</text>
<text x="421" y="1328.9" font-size="17.5" textLength="17" lengthAdjust="spacingAndGlyphs" font-weight="bold" fill="#088b9f"  stroke="#088b9f" stroke-width="0.45" stroke-linejoin="round">%</text>
<text x="360.2" y="1363.5" font-size="16.6" textLength="101.5" lengthAdjust="spacingAndGlyphs"  stroke="#000" stroke-width="0.22">of all servers</text>
<text x="374.8" y="1386.5" font-size="16.6" textLength="72.5" lengthAdjust="spacingAndGlyphs"  stroke="#000" stroke-width="0.22">in the US.</text>
<text x="559" y="1341" font-size="33.5" textLength="38.5" lengthAdjust="spacingAndGlyphs" font-weight="bold" fill="#088b9f"  stroke="#088b9f" stroke-width="1.51" stroke-linejoin="round">41</text>
<text x="598.5" y="1328.9" font-size="17.5" textLength="17" lengthAdjust="spacingAndGlyphs" font-weight="bold" fill="#088b9f"  stroke="#088b9f" stroke-width="0.45" stroke-linejoin="round">%</text>
<text x="530.0" y="1363.5" font-size="16.6" textLength="110" lengthAdjust="spacingAndGlyphs"  stroke="#000" stroke-width="0.22">of fine dining</text>
<text x="538.2" y="1386.5" font-size="16.6" textLength="93.5" lengthAdjust="spacingAndGlyphs"  stroke="#000" stroke-width="0.22">bartenders.</text>
<text x="748.5" y="1341" font-size="33.5" textLength="40" lengthAdjust="spacingAndGlyphs" font-weight="bold" fill="#088b9f"  stroke="#088b9f" stroke-width="1.51" stroke-linejoin="round">55</text>
<text x="789.5" y="1328.9" font-size="17.5" textLength="17" lengthAdjust="spacingAndGlyphs" font-weight="bold" fill="#088b9f"  stroke="#088b9f" stroke-width="0.45" stroke-linejoin="round">%</text>
<text x="721.0" y="1363.5" font-size="16.6" textLength="113" lengthAdjust="spacingAndGlyphs"  stroke="#000" stroke-width="0.22">of family-style</text>
<text x="686.5" y="1386.5" font-size="16.6" textLength="182" lengthAdjust="spacingAndGlyphs"  stroke="#000" stroke-width="0.22">restaurant bartenders.</text>
<text x="921" y="1341" font-size="33.5" textLength="35" lengthAdjust="spacingAndGlyphs" font-weight="bold" fill="#088b9f"  stroke="#088b9f" stroke-width="1.51" stroke-linejoin="round">19</text>
<text x="957" y="1328.9" font-size="17.5" textLength="17" lengthAdjust="spacingAndGlyphs" font-weight="bold" fill="#088b9f"  stroke="#088b9f" stroke-width="0.45" stroke-linejoin="round">%</text>
<text x="872.2" y="1363.5" font-size="16.6" textLength="146.5" lengthAdjust="spacingAndGlyphs"  stroke="#000" stroke-width="0.22">of chef’s positions</text>
<text x="909.0" y="1386.5" font-size="16.6" textLength="73" lengthAdjust="spacingAndGlyphs"  stroke="#000" stroke-width="0.22">in the US.</text>
<text x="1096" y="1341" font-size="33.5" textLength="40" lengthAdjust="spacingAndGlyphs" font-weight="bold" fill="#088b9f"  stroke="#088b9f" stroke-width="1.51" stroke-linejoin="round">23</text>
<text x="1137" y="1328.9" font-size="17.5" textLength="17" lengthAdjust="spacingAndGlyphs" font-weight="bold" fill="#088b9f"  stroke="#088b9f" stroke-width="0.45" stroke-linejoin="round">%</text>
<text x="1044.0" y="1363.5" font-size="16.6" textLength="162" lengthAdjust="spacingAndGlyphs"  stroke="#000" stroke-width="0.22">of the chefs &amp; head</text>
<text x="1061.5" y="1386.5" font-size="16.6" textLength="127" lengthAdjust="spacingAndGlyphs"  stroke="#000" stroke-width="0.22">cooks in the US.</text>
</g>
<g id="sec3">
<rect x="36" y="1457.5" width="1209" height="828" rx="18" fill="#fff" />
<rect x="36" y="1457.5" width="1209" height="828" rx="18" fill="url(#grid)" />
<path d="M19,1496 H392.5 L402.5,1529.25 L392.5,1562.5 H19Z" fill="#f28a42" />
<path d="M19,1562.5 H36.5 V1577.5Z" fill="#8c1c1c" />
<text x="37.2" y="1524.0" font-size="19.5" textLength="340" lengthAdjust="spacingAndGlyphs" font-weight="bold" fill="#fff"  stroke="#fff" stroke-width="0.8" stroke-linejoin="round">WOMEN IN THE CULINARY INDUSTRY</text>
<text x="37.2" y="1549.0" font-size="19.5" textLength="341" lengthAdjust="spacingAndGlyphs" font-weight="bold" fill="#fff"  stroke="#fff" stroke-width="0.8" stroke-linejoin="round">AS LEADERS AND BUSINESS OWNERS</text>
<text x="431" y="1523.5" font-size="16.5" textLength="530" lengthAdjust="spacingAndGlyphs" font-weight="bold"  stroke="#000" stroke-width="0.45" stroke-linejoin="round">The Industry is starting to see women as an emerging force, as</text>
<text x="967.5" y="1523.5" font-size="16.5" textLength="56" lengthAdjust="spacingAndGlyphs" font-weight="bold" fill="#f28a42"  stroke="#f28a42" stroke-width="0.45" stroke-linejoin="round">“trust”</text>
<text x="1029.5" y="1523.5" font-size="16.5" textLength="103" lengthAdjust="spacingAndGlyphs" font-weight="bold"  stroke="#000" stroke-width="0.45" stroke-linejoin="round">is perceived</text>
<text x="431" y="1546.5" font-size="16.5" textLength="624" lengthAdjust="spacingAndGlyphs" font-weight="bold"  stroke="#000" stroke-width="0.45" stroke-linejoin="round">as the highest regarded benefit of having women in leadership positions.</text>
<rect x="36.5" y="1730" width="1208.5" height="16" fill="#e6e6e6" />
<rect x="36.5" y="1852.5" width="1208.5" height="16" fill="#e6e6e6" />
<path d="M191.900,2017.800 H1245 V2037 H225.600 L208.700,2285.500 H193.300Z" fill="#c4c4c4" />
<rect x="223" y="2071" width="1022" height="15.5" fill="#e6e6e6" />
<text x="241.5" y="1607.5" font-size="16.6" textLength="144.5" lengthAdjust="spacingAndGlyphs"  stroke="#000" stroke-width="0.22">Women represent</text>
<text x="241.5" y="1649" font-size="32" textLength="39.5" lengthAdjust="spacingAndGlyphs" font-weight="bold" fill="#f28a42"  stroke="#f28a42" stroke-width="1.44" stroke-linejoin="round">23</text>
<text x="282.0" y="1637.5" font-size="17" textLength="17" lengthAdjust="spacingAndGlyphs" font-weight="bold" fill="#f28a42"  stroke="#f28a42" stroke-width="0.45" stroke-linejoin="round">%</text>
<text x="308.5" y="1634" font-size="16.6" textLength="90.5" lengthAdjust="spacingAndGlyphs"  stroke="#000" stroke-width="0.22">of the food</text>
<text x="308.5" y="1656.5" font-size="16.6" textLength="75" lengthAdjust="spacingAndGlyphs"  stroke="#000" stroke-width="0.22">industry’s</text>
<text x="308.5" y="1680" font-size="16.6" textLength="55.5" lengthAdjust="spacingAndGlyphs"  stroke="#000" stroke-width="0.22">C-suite</text>
<text x="308.5" y="1702.5" font-size="16.6" textLength="94" lengthAdjust="spacingAndGlyphs"  stroke="#000" stroke-width="0.22">executives.</text>
<g transform="translate(0,0)"><path d="M433.300,1598 H468.400 L478.500,1651 V1729.500 H423.400 V1651Z" fill="#e3ecee" />
<path d="M432,1606.600 H470 L478.500,1651 V1729.500 H423.400 V1651Z" fill="#088b9f" />
<path d="M433.300,1598 H445.500 L435.500,1651 V1729.500 H423.400 V1651Z" fill="#000" opacity="0.09"/>
<rect x="430.5" y="1590" width="40" height="8.6" rx="3.5" fill="#c4c4c4" />
</g><g transform="translate(69.5,0)"><path d="M433.300,1598 H468.400 L478.500,1651 V1729.500 H423.400 V1651Z" fill="#e4e4e4" />
<path d="M433.300,1598 H445.500 L435.500,1651 V1729.500 H423.400 V1651Z" fill="#d7d7d7" />
<rect x="430.5" y="1590" width="40" height="8.6" rx="3.5" fill="#c4c4c4" />
</g><g transform="translate(139.5,0)"><path d="M433.300,1598 H468.400 L478.500,1651 V1729.500 H423.400 V1651Z" fill="#e4e4e4" />
<path d="M433.300,1598 H445.500 L435.500,1651 V1729.500 H423.400 V1651Z" fill="#d7d7d7" />
<rect x="430.5" y="1590" width="40" height="8.6" rx="3.5" fill="#c4c4c4" />
</g><g transform="translate(209,0)"><path d="M433.300,1598 H468.400 L478.500,1651 V1729.500 H423.400 V1651Z" fill="#e4e4e4" />
<path d="M433.300,1598 H445.500 L435.500,1651 V1729.500 H423.400 V1651Z" fill="#d7d7d7" />
<rect x="430.5" y="1590" width="40" height="8.6" rx="3.5" fill="#c4c4c4" />
</g><path d="M755,1610 H796 V1729.500 H749 V1622 Q749,1612 755,1610Z" fill="#f0f0f0" />
<path d="M914,1650 H934 Q940,1652 940,1660 V1729.500 H914Z" fill="#f0f0f0" />
<clipPath id="jar"><path d="M805,1606 H904 C904,1618 914.500,1618 914.500,1630 V1729.500 H794 V1630 C794,1618 805,1618 805,1606Z"/></clipPath><g clip-path="url(#jar)"><rect x="790" y="1600" width="130" height="135" fill="#e4e4e4"/><rect x="790" y="1664" width="130" height="70" fill="#088b9f"/><path d="M794,1600 H816 C816,1620 812.500,1622 812.500,1632 V1730 H794Z" fill="#000" opacity="0.09"/></g><rect x="796" y="1587.5" width="116.5" height="18.5" rx="4" fill="#c4c4c4" />
<text x="956.5" y="1607.5" font-size="16.6" textLength="215" lengthAdjust="spacingAndGlyphs"  stroke="#000" stroke-width="0.22">Of half of all restaurants in</text>
<text x="956.5" y="1631" font-size="16.6" textLength="232.5" lengthAdjust="spacingAndGlyphs"  stroke="#000" stroke-width="0.22">the US, women have at least</text>
<text x="956.5" y="1673.5" font-size="33.5" textLength="42.5" lengthAdjust="spacingAndGlyphs" font-weight="bold" fill="#f28a42"  stroke="#f28a42" stroke-width="1.51" stroke-linejoin="round">50</text>
<text x="1000.0" y="1661.4" font-size="17.5" textLength="16" lengthAdjust="spacingAndGlyphs" font-weight="bold" fill="#f28a42"  stroke="#f28a42" stroke-width="0.45" stroke-linejoin="round">%</text>
<text x="1027.5" y="1660" font-size="16.6" textLength="117.5" lengthAdjust="spacingAndGlyphs"  stroke="#000" stroke-width="0.22">of either full or</text>
<text x="1027.5" y="1682.5" font-size="16.6" textLength="150" lengthAdjust="spacingAndGlyphs"  stroke="#000" stroke-width="0.22">shared ownership.</text>
<path d="M418.5,1765 H445.5 C450,1780 451,1797 434,1809 L433.3,1840 C435,1847 445,1848 450.5,1852.500 H413.5 C419,1848 429,1847 430.7,1840 L430,1809 C413,1797 414,1780 418.5,1765Z" fill="#e2dfa3" />
<path d="M478.2,1765 H505.2 C509.7,1780 510.7,1797 493.7,1809 L493.0,1840 C494.7,1847 504.7,1848 510.2,1852.500 H473.2 C478.7,1848 488.7,1847 490.4,1840 L489.7,1809 C472.7,1797 473.7,1780 478.2,1765Z" fill="#f28a42" />
<path d="M519.0,1765 H546.0 C550.5,1780 551.5,1797 534.5,1809 L533.8,1840 C535.5,1847 545.5,1848 551.0,1852.500 H514.0 C519.5,1848 529.5,1847 531.2,1840 L530.5,1809 C513.5,1797 514.5,1780 519.0,1765Z" fill="#f28a42" />
<path d="M559.0,1765 H586.0 C590.5,1780 591.5,1797 574.5,1809 L573.8,1840 C575.5,1847 585.5,1848 591.0,1852.500 H554.0 C559.5,1848 569.5,1847 571.2,1840 L570.5,1809 C553.5,1797 554.5,1780 559.0,1765Z" fill="#f28a42" />
<text x="628.5" y="1799" font-size="16.6" textLength="421.5" lengthAdjust="spacingAndGlyphs"  stroke="#000" stroke-width="0.22">Restaurants owned and run by women have grown</text>
<text x="628.5" y="1821.5" font-size="16.6" textLength="81.5" lengthAdjust="spacingAndGlyphs"  stroke="#000" stroke-width="0.22">more than</text>
<text x="720" y="1821.5" font-size="16" textLength="72.5" lengthAdjust="spacingAndGlyphs" font-weight="bold" fill="#f28a42"  stroke="#f28a42" stroke-width="0.45" stroke-linejoin="round">3x faster</text>
<text x="798" y="1821.5" font-size="16.6" textLength="287" lengthAdjust="spacingAndGlyphs"  stroke="#000" stroke-width="0.22">than the overall restaurant industry.</text>
<path d="M231,2016 Q231,2008.500 238,2008.500 H545 Q552.500,2008.500 552.500,2016 M563,2016 Q563,2008.500 570,2008.500 H878 Q885,2008.500 885,2016 M895,2016 Q895,2008.500 902,2008.500 H1210 Q1217.500,2008.500 1217.500,2016" fill="none" stroke="#111" stroke-width="2.6"/>
<path d="M211.500,1928 H232 V1944 H226 Q222,1944 222,1940 Q222,1935.500 217,1935.500 H211.500Z" fill="#111" />
<path d="M380,1928 H360 V1944 H366 Q370,1944 370,1940 Q370,1935.500 375,1935.500 H380Z" fill="#111" />
<path d="M230.700,1916.500 H362 V1992 Q362,2007 347,2007 H246 Q230.700,2007 230.700,1992Z" fill="#f28a42" />
<path d="M230.700,1916.500 H242.500 V1990 Q242.500,2003 256,2007 H246 Q230.700,2007 230.700,1992Z" fill="#e07b3a" />
<path d="M287.500,1915 H299 V1932 Q299,1935 297.800,1938 V1962 Q297.800,1965 296,1965 Q294.300,1965 294.300,1962 V1945 Q294.300,1941 292,1940 V1932 Q291,1928 289,1930 Q287.500,1926 287.500,1920Z" fill="#e8751f" />
<rect x="292" y="1874.7" width="22" height="7" rx="3" fill="#111" />
<rect x="298" y="1880" width="10" height="9" fill="#111" />
<path d="M241,1905.300 L268,1886 Q300,1886 349.300,1899.700 Q362,1905 363.400,1913.700 L364.800,1925 L287.500,1913.700Z" fill="#f28a42" />
<path d="M241,1905.300 L287.500,1913.700 L364.800,1925 L364,1917 L289,1906 L250,1899Z" fill="#e8802f" />
<rect x="503" y="1955" width="66.5" height="11.5" rx="4" fill="#4d4d4d" />
<path d="M376.900,1955.700 H507 C505,1985 478,2007 455,2007 H428 C405,2007 379,1985 376.900,1955.700Z" fill="#c4c4c4" />
<path d="M376.900,1955.700 H386 C389,1985 412,2004 436,2007 H428 C405,2007 379,1985 376.900,1955.700Z" fill="#adadad" />
<path d="M598,1967 H666 V1971 H664.500 V1995 Q664.500,2007 652,2007 H612 Q599.500,2007 599.500,1995 V1971 H598Z" fill="#c4c4c4" />
<path d="M598,1967 H612 V1995 Q612,2005 622,2007 H612 Q599.500,2007 599.500,1995 V1971 H598Z" fill="#adadad" />
<path d="M705,1953 C712,1948 718,1950 722,1944 C728,1936 738,1940 742,1936 C750,1931 760,1933 764,1938 C772,1938 778,1944 784,1946 C792,1946 798,1950 802,1953Z" fill="#e2e2e2" />
<rect x="806" y="1959.5" width="75" height="8" rx="3" fill="#111" />
<path d="M697.800,1952 H810 V1956 H808.500 V1992 Q808.500,2007 793,2007 H715 Q699.500,2007 699.500,1992 V1956 H697.800Z" fill="#f28a42" />
<path d="M697.800,1952 H715 V1990 Q715,2004 728,2007 H715 Q699.500,2007 699.500,1992 V1956 H697.800Z" fill="#e07b3a" />
<path d="M731,1952 h6.500 v9 q0,2.500 -2,2.500 q-2,0 -2,-2.500 v-4 q0,-2 -2.500,-2Z M750,1952 h15 v3 q0,2 -2,2.500 v13 q0,3 -2.500,3 q-2.500,0 -2.500,-3 v-10 q0,-3 -3,-3 q-3,0 -5,-2.500Z" fill="#ececec" />
<path d="M918,1953 C926,1946 940,1948 946,1944 C956,1940 968,1942 974,1946 C982,1946 988,1950 990,1953Z" fill="#e6e6e6" />
<path d="M895,1952 H1008 V1958 H1005.500 V1992 Q1005.500,2007 990,2007 H914 Q898.500,2007 898.500,1992 V1958 H895Z" fill="#c4c4c4" />
<path d="M895,1952 H912 V1990 Q912,2004 926,2007 H914 Q898.500,2007 898.500,1992 V1958 H895Z" fill="#adadad" />
<path d="M1140,1984 L1200,1985.500 Q1204,1986 1204,1989 Q1204,1992.500 1200,1992.500 L1140,1992.500Z" fill="#4d4d4d" />
<path d="M1021,1976.500 H1144 V1980 H1142.500 V1996 Q1142.500,2007 1130,2007 H1036 Q1023,2007 1023,1996 V1980 H1021Z" fill="#f28a42" />
<path d="M1021,1976.500 H1036 V1995 Q1036,2005 1046,2007 H1036 Q1023,2007 1023,1996 V1980 H1021Z" fill="#e07b3a" />
<path d="M132.600,1780 V1816 L181,1829 L190,1806.800 C200,1806 209,1805 213.400,1801 L221.600,1784.500 L222.800,1771.600 L229.800,1764.500 Q231,1762 229,1760 L221.600,1751.700 L220.500,1733 L175,1740Z" fill="#f9d9ae" />
<path d="M115,1719 L210,1704 C220,1708 227,1714 227.500,1721 C229,1724 229.500,1728 228.700,1730.600 C227,1735 224,1738 220.500,1740 C214,1744 209,1744.500 204,1744.700 C196,1744 186,1744 180.600,1749 C176,1753 173,1758 174.800,1763.400 C176,1767 179,1769 180.600,1770.500 C174,1774 168,1776 162,1777.500 C156,1780 150,1783 143,1784.500 C134,1782 126,1778 122,1770.500 C117,1762 115,1752 115,1742Z" fill="#000" />
<path d="M112.700,1620.500 Q150,1608 190,1611 L210,1706 Q160,1722 116.200,1719Z" fill="#f5f5f5" />
<path d="M124.400,1822 L176,1833.700 L194,1890 L178,2029 L59.700,2058.600 L90.400,1960 L103,1894.700 L117,1847.800Z" fill="#e6e6e6" />
<path d="M132.600,1813.500 L182.500,1828 L181,1834.500 L131.500,1820.500Z" fill="#056067" />
<path d="M181.800,1828 L193.500,1890 L189,1936 L180.600,1978 L172,2048.700 L169.400,2186.500 Q150,2186 132.800,2179.500 L139.800,2076.900 L141,1998 Q135,1980 121.500,1964 L110,1953.700 L87.800,1957 L89,1947.500 L116,1943 L132.800,1961.500 L152.500,1964.400 L161.900,1904 L166.600,1861.900 L176,1833.700Z" fill="#056067" />
<path d="M161,1905 L208.700,1887 Q218,1884 222.800,1892 Q226,1900 222.800,1905 L152.500,1964.400 Q140,1968 132.800,1961.500 L116,1943 L140,1880 Z" fill="#e6e6e6" />
<path d="M222,1886 L229.800,1877 L283,1862 Q288,1861 288.400,1864 Q288.500,1867 285,1868 L270,1872 L286,1871 Q290,1871.500 289,1875 Q288,1877.500 284,1877.500 L279,1880.500 L262,1890 L243.900,1901.700 L226,1905Z" fill="#fbdcb5" />
<path d="M85,2245.600 H121.600 L123,2262 H88Z" fill="#f28a42" />
<path d="M85,2245.600 H95 L97,2262 H88Z" fill="#e07a35" />
<path d="M79.400,2285 C78,2276 79,2269 82,2265 L96,2259.700 C104,2264 116,2264 124.400,2258 L170,2272 C176,2274 178,2279 177.800,2285Z" fill="#000" />
<circle cx="346.5" cy="2029" r="7" fill="none" stroke="#222" stroke-width="3"/>
<path d="M335.300,2040 Q335.300,2036 339.300,2036 H355.200 Q359.200,2036 359.200,2040 L352.200,2082.500 L350,2100 H343 L342.300,2082.500Z" fill="#4d4d4d" />
<circle cx="346.5" cy="2182" r="86" fill="#4d4d4d" />
<circle cx="346.5" cy="2182" r="73" fill="#fff" />
<path d="M346.500,2109 A73,73 0 0 1 343.500,2255 Z" fill="#088b9f" />
<circle cx="346.5" cy="2182" r="48.5" fill="#4d4d4d" />
<text x="320.5" y="2196.5" font-size="34.5" textLength="40" lengthAdjust="spacingAndGlyphs" font-weight="bold" fill="#fff"  stroke="#fff" stroke-width="1.55" stroke-linejoin="round">50</text>
<text x="362" y="2184" font-size="17.5" textLength="17" lengthAdjust="spacingAndGlyphs" font-weight="bold" fill="#fff"  stroke="#fff" stroke-width="0.45" stroke-linejoin="round">%</text>
<text x="451.5" y="2152.5" font-size="16.5" textLength="195.5" lengthAdjust="spacingAndGlyphs" >of special food services</text>
<text x="451.5" y="2175" font-size="16.5" textLength="221" lengthAdjust="spacingAndGlyphs" >businesses (including food</text>
<text x="451.5" y="2197.5" font-size="16.5" textLength="199.5" lengthAdjust="spacingAndGlyphs" >trucks and catering) are</text>
<text x="451.5" y="2220" font-size="16.5" textLength="263.5" lengthAdjust="spacingAndGlyphs" >owned or co-owned by women.</text>
<rect x="776" y="2075" width="20" height="33" rx="3" fill="#111" />
<ellipse cx="786" cy="2087" rx="2" ry="3.500" fill="#ddd"/><path d="M781,2106 H792 L790,2140 H783Z" fill="#4d4d4d" />
<circle cx="786.5" cy="2174" r="38.5" fill="#4d4d4d" />
<rect x="849.5" y="2079" width="13" height="50" rx="4" fill="#111" />
<ellipse cx="856" cy="2087" rx="2" ry="3.500" fill="#ddd"/><path d="M852,2127 H860 L861,2140 Q865,2150 865,2162 V2204 Q865,2212.500 856.250,2212.500 Q847.500,2212.500 847.500,2204 V2162 Q847.500,2150 851.500,2140Z" fill="#4d4d4d" />
<rect x="891.5" y="2079" width="13" height="50" rx="4" fill="#111" />
<ellipse cx="898" cy="2087" rx="2" ry="3.500" fill="#ddd"/><rect x="895.5" y="2127" width="5" height="36" fill="#4d4d4d" />
<path d="M878,2166 Q878,2160 884,2160 H912 Q918,2160 918.500,2166 L920,2202 Q920,2208 914,2208 H882 Q876,2208 876,2202Z" fill="#4d4d4d" />
<rect x="883" y="2167" width="4.5" height="35" rx="2" fill="#ddd" />
<rect x="891.5" y="2167" width="4.5" height="35" rx="2" fill="#ddd" />
<rect x="900" y="2167" width="4.5" height="35" rx="2" fill="#ddd" />
<rect x="908.5" y="2167" width="4.5" height="35" rx="2" fill="#ddd" />
<rect x="943.5" y="2079" width="13" height="50" rx="4" fill="#111" />
<ellipse cx="950" cy="2087" rx="2" ry="3.500" fill="#ddd"/><rect x="947" y="2127" width="5.5" height="30" fill="#4d4d4d" />
<circle cx="949.5" cy="2177.5" r="24" fill="#4d4d4d" />
<rect x="994" y="2079" width="13" height="50" rx="4" fill="#111" />
<ellipse cx="1000.5" cy="2087" rx="2" ry="3.500" fill="#ddd"/><rect x="997.5" y="2127" width="5.5" height="32" fill="#4d4d4d" />
<circle cx="1000" cy="2179" r="21.5" fill="#4d4d4d" />
<circle cx="1000" cy="2179" r="2" fill="#ddd" />
<circle cx="1006.0" cy="2179.0" r="1.6" fill="#ddd" />
<circle cx="1003.0" cy="2184.2" r="1.6" fill="#ddd" />
<circle cx="997.0" cy="2184.2" r="1.6" fill="#ddd" />
<circle cx="994.0" cy="2179.0" r="1.6" fill="#ddd" />
<circle cx="997.0" cy="2173.8" r="1.6" fill="#ddd" />
<circle cx="1003.0" cy="2173.8" r="1.6" fill="#ddd" />
<circle cx="1011.5" cy="2179.0" r="1.6" fill="#ddd" />
<circle cx="1009.3" cy="2185.8" r="1.6" fill="#ddd" />
<circle cx="1003.6" cy="2189.9" r="1.6" fill="#ddd" />
<circle cx="996.4" cy="2189.9" r="1.6" fill="#ddd" />
<circle cx="990.7" cy="2185.8" r="1.6" fill="#ddd" />
<circle cx="988.5" cy="2179.0" r="1.6" fill="#ddd" />
<circle cx="990.7" cy="2172.2" r="1.6" fill="#ddd" />
<circle cx="996.4" cy="2168.1" r="1.6" fill="#ddd" />
<circle cx="1003.6" cy="2168.1" r="1.6" fill="#ddd" />
<circle cx="1009.3" cy="2172.2" r="1.6" fill="#ddd" />
<circle cx="1016.5" cy="2179.0" r="1.6" fill="#ddd" />
<circle cx="1015.2" cy="2185.3" r="1.6" fill="#ddd" />
<circle cx="1011.7" cy="2190.7" r="1.6" fill="#ddd" />
<circle cx="1006.3" cy="2194.2" r="1.6" fill="#ddd" />
<circle cx="1000.0" cy="2195.5" r="1.6" fill="#ddd" />
<circle cx="993.7" cy="2194.2" r="1.6" fill="#ddd" />
<circle cx="988.3" cy="2190.7" r="1.6" fill="#ddd" />
<circle cx="984.8" cy="2185.3" r="1.6" fill="#ddd" />
<circle cx="983.5" cy="2179.0" r="1.6" fill="#ddd" />
<circle cx="984.8" cy="2172.7" r="1.6" fill="#ddd" />
<circle cx="988.3" cy="2167.3" r="1.6" fill="#ddd" />
<circle cx="993.7" cy="2163.8" r="1.6" fill="#ddd" />
<circle cx="1000.0" cy="2162.5" r="1.6" fill="#ddd" />
<circle cx="1006.3" cy="2163.8" r="1.6" fill="#ddd" />
<circle cx="1011.7" cy="2167.3" r="1.6" fill="#ddd" />
<circle cx="1015.2" cy="2172.7" r="1.6" fill="#ddd" />
<rect x="1035" y="2079" width="13" height="50" rx="4" fill="#111" />
<ellipse cx="1041.5" cy="2087" rx="2" ry="3.500" fill="#ddd"/><path d="M1038,2127 H1045 L1046,2140 Q1055,2150 1056,2165 V2204 Q1056,2212.500 1047,2212.500 H1036 Q1027.500,2212.500 1027.500,2204 V2165 Q1028,2150 1037,2140Z" fill="#4d4d4d" />
<rect x="1121" y="2075" width="20" height="44" rx="4" fill="#f28a42" />
<path d="M1125,2117 H1137 L1136,2156 H1126Z" fill="#4d4d4d" />
<path d="M1095,2155 H1166 Q1172,2155 1172.500,2161 L1173.500,2210 Q1173.500,2219 1165,2219 H1096 Q1087.500,2219 1087.500,2210 L1088.500,2161 Q1089,2155 1095,2155Z" fill="#4d4d4d" />
<rect x="1099" y="2164" width="63" height="4.5" rx="2.2" fill="#ddd" />
<rect x="1099" y="2173" width="63" height="4.5" rx="2.2" fill="#ddd" />
<rect x="1099" y="2182" width="63" height="4.5" rx="2.2" fill="#ddd" />
<rect x="1099" y="2191" width="63" height="4.5" rx="2.2" fill="#ddd" />
<rect x="1099" y="2200" width="63" height="4.5" rx="2.2" fill="#ddd" />
<rect x="1099" y="2209" width="63" height="4.5" rx="2.2" fill="#ddd" />
</g>
<g id="footer">
<rect x="0" y="2346" width="1280" height="83" fill="#fff" />
<text x="16" y="2365" font-size="9.3" textLength="38.5" lengthAdjust="spacingAndGlyphs" font-weight="bold" fill="#222" >Sources:</text>
<text x="59" y="2365" font-size="9.3" textLength="1013.5" lengthAdjust="spacingAndGlyphs" fill="#222" >“2015 Food and Beverage Report: Women and Their Roles in the Industry.” Green Hasson Janks. 2015.  “2019 Restaurant Industry Factbook.” National Restaurant Association. 2019. “Chefs &amp; Head Cooks.” Data USA. 2017. “Female Food</text>
<text x="16" y="2378" font-size="9.3" textLength="1054" lengthAdjust="spacingAndGlyphs" fill="#222" >Entrepreneurs: By the Numbers.” Foodboro. 2018. “I’m with Her: Women and Leadership.” I’m with Her: Women and Leadership | StarChefs.com. Accessed November 14, 2019. “Impact: Women’s Foodservice Forum.” Impact | Women’s Foodser-</text>
<text x="16" y="2391" font-size="9.3" textLength="1048" lengthAdjust="spacingAndGlyphs" fill="#222" >vice Forum. Accessed November 14, 2019. “Restaurant Industry 2030.” National Restaurant Association. November 5, 2019. “The State of Women in Restaurant and Food Industry in 2017.” Rewards Network. 2017. “Women in the Food Indus-</text>
<text x="16" y="2404" font-size="9.3" textLength="191" lengthAdjust="spacingAndGlyphs" fill="#222" >try.” McKinsey &amp; Company. November 2017.</text>
<text x="1099" y="2375" font-size="8.6" textLength="79.5" lengthAdjust="spacingAndGlyphs" fill="#8a8a8a" letter-spacing="1" stroke="#8a8a8a" stroke-width="0.3">CENTER FOR</text>
<text x="1099" y="2391.5" font-size="15.5" textLength="79.5" lengthAdjust="spacingAndGlyphs" fill="#8a8a8a" stroke="#8a8a8a" stroke-width="0.4">WOMEN</text>
<text x="1099" y="2408" font-size="15" textLength="79.5" lengthAdjust="spacingAndGlyphs" fill="#8a8a8a" stroke="#8a8a8a" stroke-width="0.4">&amp;WEALTH</text>
<rect x="1187" y="2368.5" width="0.9" height="40" fill="#aaa" />
<text x="1196.5" y="2381.3" font-size="7" textLength="31.5" lengthAdjust="spacingAndGlyphs" fill="#555" letter-spacing="0.8" stroke="#555" stroke-width="0.25">BROWN</text>
<rect x="1232.5" y="2377.3" width="7.5" height="1.2" fill="#555" />
<rect x="1231.5" y="2379.8" width="7.5" height="1.2" fill="#555" />
<text x="1196.5" y="2392" font-size="7" textLength="43.5" lengthAdjust="spacingAndGlyphs" fill="#555" letter-spacing="0.8" stroke="#555" stroke-width="0.25">BROTHERS</text>
<text x="1196.5" y="2402.4" font-size="7" textLength="43.5" lengthAdjust="spacingAndGlyphs" fill="#555" letter-spacing="0.8" stroke="#555" stroke-width="0.25">HARRIMAN</text>
</g>

</svg>
</body></html>
